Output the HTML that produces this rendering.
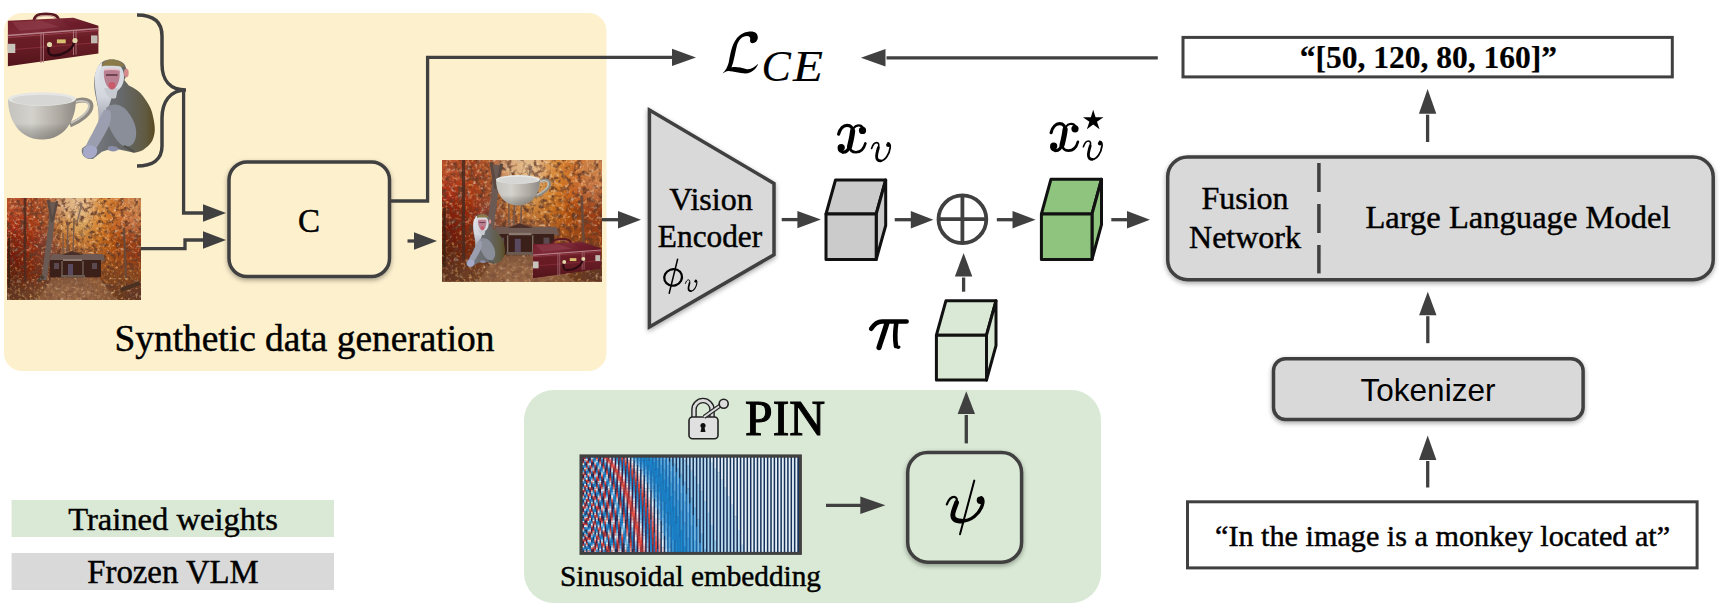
<!DOCTYPE html>
<html><head><meta charset="utf-8"><title>PIN diagram</title>
<style>html,body{margin:0;padding:0;background:#fff;width:1724px;height:613px;overflow:hidden}svg{display:block}text{fill:#000;stroke:#000;stroke-width:0.45px}</style>
</head><body>
<svg width="1724" height="613" viewBox="0 0 1724 613"><defs>
<filter id="sh" x="-10%" y="-10%" width="120%" height="130%"><feGaussianBlur in="SourceAlpha" stdDeviation="2.5"/><feOffset dx="0" dy="2" result="b"/><feComponentTransfer><feFuncA type="linear" slope="0.35"/></feComponentTransfer><feMerge><feMergeNode/><feMergeNode in="SourceGraphic"/></feMerge></filter>

<symbol id="forest" viewBox="0 0 134 102" width="134" height="102" overflow="hidden">
<filter id="fblur" x="-20%" y="-20%" width="140%" height="140%"><feGaussianBlur stdDeviation="6"/></filter>
<filter id="fnoise" x="0" y="0" width="100%" height="100%"><feTurbulence type="fractalNoise" baseFrequency="0.22" numOctaves="3" seed="3"/><feColorMatrix type="matrix" values="0 0 0 0 0.12  0 0 0 0 0.04  0 0 0 0 0.02  0 0 0 -3.5 1.9"/></filter>
<filter id="fnoise2" x="0" y="0" width="100%" height="100%"><feTurbulence type="fractalNoise" baseFrequency="0.28" numOctaves="2" seed="11"/><feColorMatrix type="matrix" values="0 0 0 0 0.98  0 0 0 0 0.86  0 0 0 0 0.66  0 0 0 4 -2.3"/></filter>
<filter id="fnoise3" x="0" y="0" width="100%" height="100%"><feTurbulence type="fractalNoise" baseFrequency="0.35" numOctaves="2" seed="5"/><feColorMatrix type="matrix" values="0 0 0 0 0.95  0 0 0 0 0.55  0 0 0 0 0.2  0 0 0 3.5 -1.9"/></filter>
<filter id="fsoft"><feGaussianBlur stdDeviation="0.5"/></filter>
<rect width="134" height="102" fill="#9a4a28"/>
<g filter="url(#fblur)">
<rect x="-12.0" y="-12.0" width="29.2" height="29.5" fill="#B8502C"/>
<rect x="16.8" y="-12.0" width="17.2" height="29.5" fill="#A0401C"/>
<rect x="33.5" y="-12.0" width="17.2" height="29.5" fill="#B0582E"/>
<rect x="50.2" y="-12.0" width="17.2" height="29.5" fill="#DCAE80"/>
<rect x="67.0" y="-12.0" width="17.2" height="29.5" fill="#E4BE90"/>
<rect x="83.8" y="-12.0" width="17.2" height="29.5" fill="#D88C3A"/>
<rect x="100.5" y="-12.0" width="17.2" height="29.5" fill="#CC6E28"/>
<rect x="117.2" y="-12.0" width="29.2" height="29.5" fill="#CC824A"/>
<rect x="-12.0" y="17.0" width="29.2" height="17.5" fill="#A82E12"/>
<rect x="16.8" y="17.0" width="17.2" height="17.5" fill="#B03E14"/>
<rect x="33.5" y="17.0" width="17.2" height="17.5" fill="#9C502C"/>
<rect x="50.2" y="17.0" width="17.2" height="17.5" fill="#D4924A"/>
<rect x="67.0" y="17.0" width="17.2" height="17.5" fill="#DCAC62"/>
<rect x="83.8" y="17.0" width="17.2" height="17.5" fill="#D48028"/>
<rect x="100.5" y="17.0" width="17.2" height="17.5" fill="#C86420"/>
<rect x="117.2" y="17.0" width="29.2" height="17.5" fill="#C27040"/>
<rect x="-12.0" y="34.0" width="29.2" height="17.5" fill="#84200C"/>
<rect x="16.8" y="34.0" width="17.2" height="17.5" fill="#9A2C0E"/>
<rect x="33.5" y="34.0" width="17.2" height="17.5" fill="#844434"/>
<rect x="50.2" y="34.0" width="17.2" height="17.5" fill="#C06C28"/>
<rect x="67.0" y="34.0" width="17.2" height="17.5" fill="#C87C30"/>
<rect x="83.8" y="34.0" width="17.2" height="17.5" fill="#C46C1E"/>
<rect x="100.5" y="34.0" width="17.2" height="17.5" fill="#B04C10"/>
<rect x="117.2" y="34.0" width="29.2" height="17.5" fill="#983E12"/>
<rect x="-12.0" y="51.0" width="29.2" height="17.5" fill="#701E0E"/>
<rect x="16.8" y="51.0" width="17.2" height="17.5" fill="#8C2A0C"/>
<rect x="33.5" y="51.0" width="17.2" height="17.5" fill="#704030"/>
<rect x="50.2" y="51.0" width="17.2" height="17.5" fill="#945434"/>
<rect x="67.0" y="51.0" width="17.2" height="17.5" fill="#9A5E3C"/>
<rect x="83.8" y="51.0" width="17.2" height="17.5" fill="#B05E20"/>
<rect x="100.5" y="51.0" width="17.2" height="17.5" fill="#A44E18"/>
<rect x="117.2" y="51.0" width="29.2" height="17.5" fill="#963A12"/>
<rect x="-12.0" y="68.0" width="29.2" height="17.5" fill="#5E2010"/>
<rect x="16.8" y="68.0" width="17.2" height="17.5" fill="#7A260C"/>
<rect x="33.5" y="68.0" width="17.2" height="17.5" fill="#603020"/>
<rect x="50.2" y="68.0" width="17.2" height="17.5" fill="#5A3424"/>
<rect x="67.0" y="68.0" width="17.2" height="17.5" fill="#5A3424"/>
<rect x="83.8" y="68.0" width="17.2" height="17.5" fill="#904C1A"/>
<rect x="100.5" y="68.0" width="17.2" height="17.5" fill="#84441A"/>
<rect x="117.2" y="68.0" width="29.2" height="17.5" fill="#8E4A1A"/>
<rect x="-12.0" y="85.0" width="29.2" height="29.5" fill="#60301A"/>
<rect x="16.8" y="85.0" width="17.2" height="29.5" fill="#704024"/>
<rect x="33.5" y="85.0" width="17.2" height="29.5" fill="#7E4E2E"/>
<rect x="50.2" y="85.0" width="17.2" height="29.5" fill="#8E5E3C"/>
<rect x="67.0" y="85.0" width="17.2" height="29.5" fill="#8E5C3C"/>
<rect x="83.8" y="85.0" width="17.2" height="29.5" fill="#7E4C2C"/>
<rect x="100.5" y="85.0" width="17.2" height="29.5" fill="#703E1E"/>
<rect x="117.2" y="85.0" width="29.2" height="29.5" fill="#603620"/>
</g>
<rect width="134" height="102" filter="url(#fnoise3)" opacity="0.55"/>
<rect width="134" height="102" filter="url(#fnoise)" opacity="0.85"/>
<rect width="134" height="55" filter="url(#fnoise2)" opacity="0.45"/>
<g stroke-linecap="butt" fill="none" filter="url(#fsoft)">
<path d="M18 0V84" stroke="#4a2a1c" stroke-width="2.6" opacity="0.85"/>
<path d="M2 40V90" stroke="#3a2014" stroke-width="2.2" opacity="0.8"/>
<path d="M46 4L44 30L37 82" stroke="#6a5a52" stroke-width="5.5"/>
<path d="M41 2L45 24M50 3L46 22" stroke="#5a4a42" stroke-width="2.5"/>
<path d="M36 78L32 83" stroke="#4a3a32" stroke-width="4"/>
<path d="M67 20L66 56M61 25L60 56M56 35L56 56" stroke="#7a5a48" stroke-width="1.4"/>
<path d="M75 5L70 24" stroke="#8a7060" stroke-width="1.5"/>
<path d="M117 30L119 80" stroke="#6a4a38" stroke-width="2.2"/>
</g>
<path d="M42 63L45 56H58L65 53L72 56H96L98 63z" fill="#6e5a52"/>
<path d="M55 57L65 53L76 57z" fill="#4a3028"/>
<rect x="43" y="62" width="51" height="17" fill="#3a2018"/>
<rect x="56" y="61" width="19" height="2" fill="#8a7a70"/>
<rect x="47" y="65" width="5" height="6" fill="#5a4a50"/>
<rect x="85" y="65" width="5" height="6" fill="#5a4a50"/>
<rect x="61" y="66" width="5" height="11" fill="#5a4a60"/>
<path d="M55 63V79M76 63V79" stroke="#7a6a60" stroke-width="1.2"/>
<rect x="54" y="77" width="24" height="2.5" fill="#6a5a50"/>
<path d="M30 102L45 80H92L110 102z" fill="#a07050" opacity="0.45"/>
<rect y="80" width="134" height="22" filter="url(#fnoise2)" opacity="0.3"/>
<path d="M114 92L133 85" stroke="#4a3020" stroke-width="4"/>
</symbol>
<g id="suitcase">
<linearGradient id="sctop" x1="0" y1="0" x2="1" y2="0.3"><stop offset="0" stop-color="#74202c"/><stop offset="0.5" stop-color="#7e2a38"/><stop offset="1" stop-color="#621824"/></linearGradient>
<linearGradient id="scfront" x1="0" y1="0" x2="0" y2="1"><stop offset="0" stop-color="#72242c"/><stop offset="0.5" stop-color="#661c24"/><stop offset="1" stop-color="#52141a"/></linearGradient>
<path d="M33.5 23C34 15 38 13.8 46 13.8C54 13.8 58.5 15 59 21.5" fill="none" stroke="#5a1a22" stroke-width="2.8"/>
<path d="M36 20C37 16.5 41 15.8 46 15.8C51 15.8 55 16.5 56.5 20" fill="none" stroke="#a06070" stroke-width="0.8" opacity="0.7"/>
<path d="M7.9 20.8L73.5 17.8L98.4 25.7V28.6L7.9 35.4z" fill="url(#sctop)"/>
<path d="M12 22L40 20.5L60 27L20 31z" fill="#9a4a58" opacity="0.4"/>
<path d="M62 19.5L90 25.5L70 28z" fill="#6e1a2a" opacity="0.6"/>
<path d="M7.9 35.4L98.4 28.6V53.5L7.9 66.3z" fill="url(#scfront)"/>
<path d="M7.9 35.4L98.4 28.6" stroke="#b88088" stroke-width="1.5"/>
<path d="M7.9 37.5L98.4 30.5" stroke="#9a4050" stroke-width="1"/>
<path d="M7.9 40L98.4 35V42L7.9 49.5z" fill="#6a1a24" opacity="0.55"/>
<path d="M7.9 50L98.4 42.5" stroke="#9a3a46" stroke-width="0.8" opacity="0.8"/>
<path d="M41 33V63M43.5 33V62.5M73.5 30.5V55M76 30.5V54.5" stroke="#b07880" stroke-width="0.9"/>
<path d="M7.9 43.8H15.3V53H7.9z" fill="#c8c4bc"/>
<path d="M91 35.4H97.5V43.3H91z" fill="#c0bab0"/>
<rect x="56.9" y="39.4" width="8.8" height="3.9" fill="#d8c070"/>
<circle cx="49.5" cy="44.5" r="2.6" fill="#e0d8a8"/><circle cx="75" cy="40.5" r="2.6" fill="#e0d8a8"/>
<path d="M48.5 47C47.5 52 49 56 55 55.5C63 55 72 50 74 43" fill="none" stroke="#2a0a12" stroke-width="2.4"/>
</g>
<g id="cup">
<linearGradient id="cupg" x1="0" y1="0" x2="1" y2="0"><stop offset="0" stop-color="#c4c2bc"/><stop offset="0.35" stop-color="#d4d2cc"/><stop offset="0.75" stop-color="#aeaaa2"/><stop offset="1" stop-color="#8e8a84"/></linearGradient>
<linearGradient id="cupv" x1="0" y1="0" x2="0" y2="1"><stop offset="0.6" stop-color="#000" stop-opacity="0"/><stop offset="1" stop-color="#3a3630" stop-opacity="0.35"/></linearGradient>
<path d="M75 101.5C83 98.5 91 100 91 106C91 113 80 121 70 125" fill="none" stroke="#8e8a82" stroke-width="5"/>
<path d="M75.5 102C82 100 89 101 89 106C89 112 80 119 71 123" fill="none" stroke="#c4c2ba" stroke-width="2"/>
<path d="M8 99C8 121 20 139.5 42 139.5C64 139.5 76 121 76 99z" fill="url(#cupg)"/>
<path d="M8 99C8 121 20 139.5 42 139.5C64 139.5 76 121 76 99z" fill="url(#cupv)"/>
<ellipse cx="42" cy="99" rx="34" ry="6.8" fill="#e6e6e4"/>
<ellipse cx="42" cy="100" rx="30.5" ry="5.2" fill="#d6d6d4"/>
</g>
<g id="monkey">
<linearGradient id="mkback" x1="0" y1="0" x2="1" y2="0"><stop offset="0" stop-color="#7a7e84"/><stop offset="0.55" stop-color="#66686a"/><stop offset="0.88" stop-color="#605a40"/><stop offset="1" stop-color="#5a4a22"/></linearGradient>
<path d="M111.8 59.5C118 59.5 124 62 125.2 65.8L127.9 72.9L124.3 80.1L128.8 85.5C135 88 140 92 143.1 96.2C148 103 151 108 152.1 112.4C154 120 155 126 154.8 130.3C154.5 135 153.5 138 152.1 141.1C149 146 146 148 143.1 150C139 152 136 152.7 134.2 152.7L121.6 150L112.7 148.3L101.9 151.8L92.9 159C89 159.5 85 158 83.1 155.4C81.5 153 81.5 150 82.2 148.3L89.3 142.9C93 137 96 131 98.3 126.7C99 120 99 114 98.3 108.8C97 102 95.5 96 94.7 90.9C94 85 94 80 94.7 76.5C96 70 99 64 101.9 62.2C105 60 108 59.5 111.8 59.5z" fill="url(#mkback)"/>
<linearGradient id="mkfur" x1="0" y1="0" x2="0" y2="1"><stop offset="0" stop-color="#e6e8ee"/><stop offset="0.55" stop-color="#d4d6de"/><stop offset="1" stop-color="#9a9ea8"/></linearGradient>
<path d="M101.9 62.2C97 66 94.5 72 94.7 80C94.8 88 96.5 96 98.3 108.8C99 116 99 120 98.5 124L106 114C109 106 112 98 113 92L112 90C106 86 103 78 102 70z" fill="url(#mkfur)"/>
<path d="M106 108C112 102 122 104 128 112C134 120 137 128 136 136C135 144 130 148 124 146C118 144 112 134 108 124z" fill="#8a8e98"/>
<path d="M104 110C100 118 96 126 92 134C89 139 87 143 86 146L95 150C99 144 104 136 108 128C111 122 112 116 110 110z" fill="#9a9eae"/>
<path d="M124 146C128 148 132 150 134 152" stroke="#50504c" stroke-width="2" fill="none"/>
<path d="M83.5 148.5C87 144 94 144 97 149C98 153 95 157 91 158.5C87 159 84 157 83 154z" fill="#a6aac8"/>
<path d="M108 147C111 145 117 146 119 149C117 152 111 152 108 150z" fill="#8a8ea8"/>
<ellipse cx="111.5" cy="77" rx="12.5" ry="15.5" fill="#d8dae2"/>
<path d="M104 88C106 96 110 100 116 98L118 88z" fill="#c8cad2"/>
<path d="M101.5 66C103 61 108 59.5 112 59.5C117 59.5 123 62 124.5 67C118 65.5 107 65.5 101.5 66z" fill="#8a7a48"/>
<ellipse cx="126.3" cy="73" rx="2.4" ry="4.2" fill="#d48a8a"/>
<path d="M104 70C107 68.5 116 68.5 119.5 70C120.5 77 118.5 88 112 90C105.5 88 103 77 104 70z" fill="#b88090"/>
<path d="M104 70C107 68.8 116 68.8 119.5 70" stroke="#e8c0c8" stroke-width="1.6" fill="none"/>
<path d="M106 75H117.5" stroke="#4a2030" stroke-width="1.6" opacity="0.8"/>
<ellipse cx="112" cy="85.5" rx="3.4" ry="3.4" fill="#c85a6a"/>
</g>
</defs>
<rect x="4" y="13" width="602.5" height="358" rx="18" fill="#FDF0CD"/>
<rect x="524" y="390" width="577" height="213" rx="30" fill="#D9E9D5"/>
<rect x="11.6" y="500" width="322.4" height="37" fill="#D9E9D5"/>
<rect x="11.6" y="553" width="322.4" height="37" fill="#D9D9D9"/>
<use href="#suitcase"/>
<use href="#cup"/>
<use href="#monkey"/>
<use href="#forest" transform="translate(7,198)"/>
<use href="#forest" transform="translate(442,160) scale(1.194)"/>
<use href="#cup" transform="translate(490.8,116.1) scale(0.647,0.64)"/>
<use href="#monkey" transform="translate(423,182.8) scale(0.53)"/>
<use href="#suitcase" transform="translate(527.1,228.6) scale(0.75)"/>
<path d="M137 15C152 15 162 21 162 36V64C162 80 170 90 186 90C170 90 162 102 162 118V146C162 160 152 166 137 166" fill="none" stroke="#404040" stroke-width="3.5"/>
<path d="M183.6 90V213H205" fill="none" stroke="#404040" stroke-width="3.3"/>
<path d="M203.0 204.3L226.0 213.0L203.0 221.7z" fill="#404040"/>
<path d="M141 248.6H185V240H205" fill="none" stroke="#404040" stroke-width="3.3"/>
<path d="M203.0 231.3L226.0 240.0L203.0 248.7z" fill="#404040"/>
<rect x="229" y="162" width="160.5" height="114.5" rx="18" fill="#FDF0CD" stroke="#404040" stroke-width="3.5" filter="url(#sh)"/>
<text x="309" y="232" font-family="Liberation Serif" font-size="33" text-anchor="middle">C</text>
<path d="M391 201H427.6V57.4H674" fill="none" stroke="#404040" stroke-width="3.3"/>
<path d="M672.0 48.7L696.0 57.4L672.0 66.1z" fill="#404040"/>
<path d="M407.5 241.0H415.0" stroke="#404040" stroke-width="3.3" fill="none"/><path d="M414.0 232.3L437.0 241.0L414.0 249.7z" fill="#404040"/>
<path d="M602.0 219.7H619.0" stroke="#404040" stroke-width="3.3" fill="none"/><path d="M618.0 211.0L641.0 219.7L618.0 228.4z" fill="#404040"/>
<text x="114.5" y="351" font-family="Liberation Serif" font-size="37.4">Synthetic data generation</text>
<path fill="#000" d="M722.5 73.5C725.5 70.5 727.8 67 729 61C730.5 53 732 44 737 38C741 33.5 746 31.5 751 31.5C755 31.5 757.8 33.5 757.8 37.5C757.8 41 755 43.2 752.5 43.2C750.5 43.2 749.6 41.5 750.2 39C750.5 37.5 749.5 36 747 36C742 36 738.5 40 736.8 46C735 53 734 61 731.5 67.5C735 66.5 741 67.5 746 69C751 70 754.5 67 758.2 63.8C756.5 68.5 752 73.5 745.5 73.5C739 73.5 734 71 728.5 71C726 71 724 72.5 722.5 73.5z"/>
<text x="761.5" y="81.3" font-family="Liberation Serif" font-style="italic" font-size="44" style="stroke-width:0.15px">C</text>
<text x="793" y="81.3" font-family="Liberation Serif" font-style="italic" font-size="44" textLength="30" lengthAdjust="spacingAndGlyphs" style="stroke-width:0.15px">E</text>
<path d="M1157.8 57.8H886.5" stroke="#404040" stroke-width="3.3" fill="none"/><path d="M885.5 49.1L860.9 57.8L885.5 66.5z" fill="#404040"/>
<rect x="1183" y="37.4" width="489.3" height="39.5" fill="#fff" stroke="#404040" stroke-width="3"/>
<text x="1428.3" y="67.9" font-family="Liberation Serif" font-weight="bold" font-size="31.5" style="stroke-width:0.2px" text-anchor="middle">“[50, 120, 80, 160]”</text>
<path d="M1427.6 142.0V114.7" stroke="#404040" stroke-width="3.3" fill="none"/><path d="M1418.9 113.7L1427.6 89.1L1436.3 113.7z" fill="#404040"/>
<path d="M649.4 110L774 183.4V254.7L649.4 327z" fill="#D9D9D9" stroke="#404040" stroke-width="3.5" stroke-linejoin="miter" filter="url(#sh)"/>
<text x="711" y="210" font-family="Liberation Serif" font-size="32" text-anchor="middle">Vision</text>
<text x="710" y="247.4" font-family="Liberation Serif" font-size="31.3" text-anchor="middle">Encoder</text>
<g fill="none" stroke="#000"><path d="M677.6 259.3L669.2 293.2" stroke-width="1.5" stroke-linecap="round"/><ellipse cx="673.1" cy="277.4" rx="9" ry="8.2" transform="rotate(-20 673.1 277.4)" stroke-width="2.2"/></g>
<g transform="translate(685,279.5) scale(0.62) translate(-871,-142)"><g transform="translate(0.0,0.0)" fill="none" stroke="#000" stroke-linecap="round"><path d="M871.6 148.4C872.8 144.8 874.6 142.6 876.6 142.6C878.8 142.6 879.2 144.8 878.4 147.6" stroke-width="1.6"/><path d="M878.4 147.6C877.6 150.5 876.6 153.8 876.6 156.3C876.6 159.4 878.2 160.9 880.6 160.9" stroke-width="2.8"/><path d="M880.6 160.9C885 160.9 889.4 154.5 890.2 147.5C890.4 145 889.6 143 888 143" stroke-width="1.8"/><circle cx="888.2" cy="145" r="2.1" fill="#000" stroke="none"/></g></g>
<path d="M781.7 219.6H798.4" stroke="#404040" stroke-width="3.3" fill="none"/><path d="M797.4 210.9L820.9 219.6L797.4 228.3z" fill="#404040"/>
<g stroke="#111" stroke-width="3.0" stroke-linejoin="round" fill="#CBCBCB"><path d="M826.0 214.0L835.5 180.0L885.7 180.0L876.2 214.0z"/><path d="M876.2 214.0L885.7 180.0L885.7 225.5L876.2 259.5z"/><rect x="826.0" y="214.0" width="50.2" height="45.5"/></g>
<g transform="translate(0.0,0.0)" fill="none" stroke="#000" stroke-linecap="round"><path d="M838.6 134.2C840 128.5 843.5 125.3 847 125.3C850.8 125.3 853 127.8 852.6 132C852.2 136 850.3 143 849.5 146C848.5 150 846 152.2 843 152.2" stroke-width="3.2"/><path d="M852.6 131C852.2 136 850.6 142.5 849.6 146.5" stroke-width="5.2"/><circle cx="841.2" cy="147.6" r="3.6" fill="#000" stroke="none"/><path d="M843 152.2C841 152.2 839 151 839 149" stroke-width="2.5"/><path d="M862.8 127.5C861.5 125.8 859.5 125.2 857.5 125.6C855 126.2 853 128.5 852.5 131" stroke-width="2.2"/><circle cx="862.5" cy="130.4" r="3.6" fill="#000" stroke="none"/><path d="M849.6 146.5C850 150 852.5 152.2 856 152.2C860.5 152.2 864 148.5 865.4 143.4" stroke-width="2.6"/></g>
<g transform="translate(0.0,0.0)" fill="none" stroke="#000" stroke-linecap="round"><path d="M871.6 148.4C872.8 144.8 874.6 142.6 876.6 142.6C878.8 142.6 879.2 144.8 878.4 147.6" stroke-width="1.6"/><path d="M878.4 147.6C877.6 150.5 876.6 153.8 876.6 156.3C876.6 159.4 878.2 160.9 880.6 160.9" stroke-width="2.8"/><path d="M880.6 160.9C885 160.9 889.4 154.5 890.2 147.5C890.4 145 889.6 143 888 143" stroke-width="1.8"/><circle cx="888.2" cy="145" r="2.1" fill="#000" stroke="none"/></g>
<path d="M894.7 219.7H911.8" stroke="#404040" stroke-width="3.3" fill="none"/><path d="M910.8 211.0L933.4 219.7L910.8 228.4z" fill="#404040"/>
<g stroke="#404040" stroke-width="3.8" fill="none"><circle cx="962.4" cy="219.2" r="23.9"/><path d="M938.5 219.2H986.3M962.4 195.3V243.1"/></g>
<path d="M996.8 219.7H1013.5" stroke="#404040" stroke-width="3.3" fill="none"/><path d="M1012.5 211.0L1035.6 219.7L1012.5 228.4z" fill="#404040"/>
<g stroke="#111" stroke-width="3.0" stroke-linejoin="round" fill="#8FC47E"><path d="M1041.4 214.0L1050.9 179.3L1101.5 179.3L1092.0 214.0z"/><path d="M1092.0 214.0L1101.5 179.3L1101.5 224.7L1092.0 259.4z"/><rect x="1041.4" y="214.0" width="50.6" height="45.4"/></g>
<g transform="translate(212.5,-1.6)" fill="none" stroke="#000" stroke-linecap="round"><path d="M838.6 134.2C840 128.5 843.5 125.3 847 125.3C850.8 125.3 853 127.8 852.6 132C852.2 136 850.3 143 849.5 146C848.5 150 846 152.2 843 152.2" stroke-width="3.2"/><path d="M852.6 131C852.2 136 850.6 142.5 849.6 146.5" stroke-width="5.2"/><circle cx="841.2" cy="147.6" r="3.6" fill="#000" stroke="none"/><path d="M843 152.2C841 152.2 839 151 839 149" stroke-width="2.5"/><path d="M862.8 127.5C861.5 125.8 859.5 125.2 857.5 125.6C855 126.2 853 128.5 852.5 131" stroke-width="2.2"/><circle cx="862.5" cy="130.4" r="3.6" fill="#000" stroke="none"/><path d="M849.6 146.5C850 150 852.5 152.2 856 152.2C860.5 152.2 864 148.5 865.4 143.4" stroke-width="2.6"/></g>
<g transform="translate(211.8,-1.6)" fill="none" stroke="#000" stroke-linecap="round"><path d="M871.6 148.4C872.8 144.8 874.6 142.6 876.6 142.6C878.8 142.6 879.2 144.8 878.4 147.6" stroke-width="1.6"/><path d="M878.4 147.6C877.6 150.5 876.6 153.8 876.6 156.3C876.6 159.4 878.2 160.9 880.6 160.9" stroke-width="2.8"/><path d="M880.6 160.9C885 160.9 889.4 154.5 890.2 147.5C890.4 145 889.6 143 888 143" stroke-width="1.8"/><circle cx="888.2" cy="145" r="2.1" fill="#000" stroke="none"/></g>
<path fill="#000" d="M1093.20 109.70L1095.55 117.26L1103.47 117.16L1097.00 121.74L1099.55 129.24L1093.20 124.50L1086.85 129.24L1089.40 121.74L1082.93 117.16L1090.85 117.26z"/>
<path d="M1111.3 219.7H1128.0" stroke="#404040" stroke-width="3.3" fill="none"/><path d="M1127.0 211.0L1150.0 219.7L1127.0 228.4z" fill="#404040"/>
<path d="M963.6 291.7V277.5" stroke="#404040" stroke-width="3.3" fill="none"/><path d="M954.9 276.5L963.6 253.0L972.3 276.5z" fill="#404040"/>
<g stroke="#111" stroke-width="3.0" stroke-linejoin="round" fill="#D9E9D5"><path d="M936.4 335.2L945.9 300.8L996.0 300.8L986.5 335.2z"/><path d="M986.5 335.2L996.0 300.8L996.0 345.7L986.5 380.1z"/><rect x="936.4" y="335.2" width="50.1" height="44.9"/></g>
<g fill="none" stroke="#000" stroke-linecap="round"><path d="M871.2 328.8C874 324.5 877 321.5 882 321.5H906.6" stroke-width="4.6"/><path d="M886.8 323.5C884 333 881 341 879 347.5" stroke-width="5.2"/><path d="M896.2 323.5C895 332 895 340 896 346" stroke-width="4.6"/><path d="M895.5 344C896.5 347 898 348 899 347" stroke-width="3"/></g>
<rect x="1167.7" y="157" width="545.5" height="122.7" rx="20" fill="#D9D9D9" stroke="#404040" stroke-width="3.5" filter="url(#sh)"/>
<path d="M1318.9 163V273.4" stroke="#404040" stroke-width="3.5" stroke-dasharray="29 12" fill="none"/>
<text x="1245" y="209" font-family="Liberation Serif" font-size="32" text-anchor="middle">Fusion</text>
<text x="1245" y="247.7" font-family="Liberation Serif" font-size="32" text-anchor="middle">Network</text>
<text x="1518" y="228.1" font-family="Liberation Serif" font-size="32.6" text-anchor="middle">Large Language Model</text>
<path d="M1427.8 343.2V316.2" stroke="#404040" stroke-width="3.3" fill="none"/><path d="M1419.1 315.2L1427.8 291.7L1436.5 315.2z" fill="#404040"/>
<rect x="1273.5" y="358.8" width="309.6" height="60.8" rx="12" fill="#D9D9D9" stroke="#404040" stroke-width="3.5" filter="url(#sh)"/>
<text x="1428" y="401.3" font-family="Liberation Sans" font-size="31.5" text-anchor="middle" style="stroke-width:0">Tokenizer</text>
<path d="M1427.7 487.5V461.0" stroke="#404040" stroke-width="3.3" fill="none"/><path d="M1419.0 460.0L1427.7 435.4L1436.4 460.0z" fill="#404040"/>
<rect x="1187.5" y="501.8" width="509.6" height="66.1" fill="#fff" stroke="#404040" stroke-width="3"/>
<text x="1442.6" y="546" font-family="Liberation Serif" font-size="30.2" text-anchor="middle">“In the image is a monkey located at”</text>
<text x="745" y="435.2" font-family="Liberation Serif" font-size="49.7" style="stroke-width:1.1px">PIN</text>
<g stroke="#222" stroke-width="1.6">
<path d="M694 418V409.5A9 9 0 0 1 712 409.5V418" fill="none" stroke="#222" stroke-width="5.6"/>
<path d="M694 418V409.5A9 9 0 0 1 712 409.5V418" fill="none" stroke="#dcdcdc" stroke-width="2.8"/>
<rect x="689" y="417" width="29" height="21.7" rx="3.5" fill="#E0E0E0"/>
<path d="M704 417L721 405" stroke="#222" stroke-width="4"/><path d="M704 417L721 405" stroke="#ddd" stroke-width="2"/>
<circle cx="723.7" cy="403.8" r="4.5" fill="#ddd"/>
</g>
<path d="M703 423a2.6 2.6 0 0 1 1.6 4.7l0.9 4.3h-5l0.9-4.3a2.6 2.6 0 0 1 1.6-4.7z" fill="#111"/>
<rect x="581" y="455.9" width="219.4" height="97.5" fill="#404040"/>
<path fill="#3c1840" d="M582.42 458.9h1.85v1.6h-1.85zM582.42 475.1h1.85v3.1h-1.85zM582.42 492.8h1.85v1.6h-1.85zM582.42 509.1h1.85v1.6h-1.85zM582.42 525.3h1.85v1.6h-1.85zM582.42 541.6h1.85v1.6h-1.85zM584.11 472.2h1.85v1.6h-1.85zM584.11 488.4h1.85v1.6h-1.85zM584.11 504.6h1.85v1.6h-1.85zM584.11 520.9h1.85v1.6h-1.85zM584.11 537.1h1.85v1.6h-1.85zM585.80 463.3h1.85v1.6h-1.85zM585.80 482.5h1.85v1.6h-1.85zM585.80 501.7h1.85v1.6h-1.85zM585.80 520.9h1.85v1.6h-1.85zM585.80 540.1h1.85v1.6h-1.85zM587.49 458.9h1.85v1.6h-1.85zM587.49 478.1h1.85v1.6h-1.85zM587.49 497.3h1.85v1.6h-1.85zM587.49 516.5h1.85v1.6h-1.85zM587.49 535.7h1.85v1.6h-1.85zM589.18 469.2h1.85v1.6h-1.85zM589.18 489.9h1.85v3.1h-1.85zM589.18 512.0h1.85v3.1h-1.85zM589.18 534.2h1.85v3.1h-1.85zM590.87 463.3h1.85v1.6h-1.85zM590.87 485.5h1.85v1.6h-1.85zM590.87 507.6h1.85v1.6h-1.85zM590.87 528.3h1.85v3.1h-1.85zM590.87 550.4h1.85v1.6h-1.85zM592.56 473.6h1.85v3.1h-1.85zM592.56 500.2h1.85v1.6h-1.85zM592.56 525.3h1.85v3.1h-1.85zM592.56 550.4h1.85v1.6h-1.85zM594.25 467.7h1.85v3.1h-1.85zM594.25 492.8h1.85v3.1h-1.85zM594.25 519.4h1.85v1.6h-1.85zM594.25 544.5h1.85v1.6h-1.85zM595.94 481.0h1.85v3.1h-1.85zM595.94 510.6h1.85v3.1h-1.85zM595.94 540.1h1.85v3.1h-1.85zM597.64 473.6h1.85v3.1h-1.85zM597.64 503.2h1.85v3.1h-1.85zM597.64 532.7h1.85v3.1h-1.85zM599.33 457.4h1.85v1.6h-1.85zM599.33 488.4h1.85v4.6h-1.85zM599.33 522.4h1.85v3.1h-1.85zM601.02 479.5h1.85v4.6h-1.85zM601.02 513.5h1.85v4.6h-1.85zM601.02 547.5h1.85v4.6h-1.85zM602.71 458.9h1.85v3.1h-1.85zM602.71 497.3h1.85v4.6h-1.85zM602.71 537.1h1.85v3.1h-1.85zM604.40 488.4h1.85v3.1h-1.85zM604.40 526.8h1.85v4.6h-1.85zM606.09 463.3h1.85v4.6h-1.85zM606.09 507.6h1.85v4.6h-1.85zM607.78 497.3h1.85v4.6h-1.85zM607.78 541.6h1.85v4.6h-1.85zM609.47 467.7h1.85v4.6h-1.85zM609.47 519.4h1.85v6.1h-1.85zM611.16 457.4h1.85v3.1h-1.85zM611.16 506.1h1.85v6.1h-1.85zM612.85 473.6h1.85v6.1h-1.85zM612.85 534.2h1.85v6.1h-1.85zM614.54 458.9h1.85v6.1h-1.85zM614.54 517.9h1.85v6.1h-1.85zM616.23 479.5h1.85v7.5h-1.85zM616.23 548.9h1.85v3.1h-1.85zM617.92 461.8h1.85v7.5h-1.85zM617.92 531.2h1.85v7.5h-1.85zM619.61 486.9h1.85v9.0h-1.85zM621.30 467.7h1.85v7.5h-1.85zM621.30 547.5h1.85v4.6h-1.85zM623.00 495.8h1.85v10.5h-1.85zM624.69 472.2h1.85v10.5h-1.85zM626.38 506.1h1.85v10.5h-1.85zM628.07 479.5h1.85v10.5h-1.85zM629.76 517.9h1.85v12.0h-1.85zM631.45 486.9h1.85v12.0h-1.85zM633.14 531.2h1.85v14.9h-1.85zM634.83 495.8h1.85v13.4h-1.85zM636.52 546.0h1.85v6.1h-1.85zM638.21 504.6h1.85v17.9h-1.85zM641.59 516.5h1.85v19.3h-1.85zM644.97 529.8h1.85v22.3h-1.85zM648.35 546.0h1.85v6.1h-1.85z"/>
<path fill="#16325c" d="M582.42 467.7h1.85v1.6h-1.85zM582.42 484.0h1.85v1.6h-1.85zM582.42 500.2h1.85v1.6h-1.85zM582.42 516.5h1.85v1.6h-1.85zM582.42 532.7h1.85v3.1h-1.85zM582.42 550.4h1.85v1.6h-1.85zM584.11 463.3h1.85v1.6h-1.85zM584.11 479.5h1.85v1.6h-1.85zM584.11 495.8h1.85v1.6h-1.85zM584.11 513.5h1.85v1.6h-1.85zM584.11 529.8h1.85v1.6h-1.85zM584.11 546.0h1.85v1.6h-1.85zM585.80 473.6h1.85v1.6h-1.85zM585.80 491.4h1.85v3.1h-1.85zM585.80 510.6h1.85v3.1h-1.85zM585.80 529.8h1.85v3.1h-1.85zM585.80 548.9h1.85v1.6h-1.85zM587.49 467.7h1.85v3.1h-1.85zM587.49 486.9h1.85v3.1h-1.85zM587.49 506.1h1.85v1.6h-1.85zM587.49 525.3h1.85v1.6h-1.85zM587.49 544.5h1.85v1.6h-1.85zM589.18 457.4h1.85v3.1h-1.85zM589.18 479.5h1.85v1.6h-1.85zM589.18 501.7h1.85v1.6h-1.85zM589.18 523.8h1.85v1.6h-1.85zM589.18 546.0h1.85v1.6h-1.85zM590.87 473.6h1.85v3.1h-1.85zM590.87 495.8h1.85v3.1h-1.85zM590.87 517.9h1.85v3.1h-1.85zM590.87 540.1h1.85v1.6h-1.85zM592.56 461.8h1.85v3.1h-1.85zM592.56 486.9h1.85v3.1h-1.85zM592.56 512.0h1.85v3.1h-1.85zM592.56 537.1h1.85v3.1h-1.85zM594.25 481.0h1.85v1.6h-1.85zM594.25 506.1h1.85v3.1h-1.85zM594.25 531.2h1.85v3.1h-1.85zM595.94 466.3h1.85v3.1h-1.85zM595.94 495.8h1.85v3.1h-1.85zM595.94 525.3h1.85v3.1h-1.85zM597.64 458.9h1.85v3.1h-1.85zM597.64 488.4h1.85v3.1h-1.85zM597.64 517.9h1.85v3.1h-1.85zM597.64 547.5h1.85v3.1h-1.85zM599.33 472.2h1.85v3.1h-1.85zM599.33 506.1h1.85v3.1h-1.85zM599.33 540.1h1.85v3.1h-1.85zM601.02 463.3h1.85v3.1h-1.85zM601.02 497.3h1.85v3.1h-1.85zM601.02 531.2h1.85v3.1h-1.85zM602.71 478.1h1.85v4.6h-1.85zM602.71 516.5h1.85v4.6h-1.85zM604.40 467.7h1.85v4.6h-1.85zM604.40 507.6h1.85v4.6h-1.85zM604.40 546.0h1.85v4.6h-1.85zM606.09 485.5h1.85v4.6h-1.85zM606.09 531.2h1.85v4.6h-1.85zM607.78 473.6h1.85v4.6h-1.85zM607.78 519.4h1.85v4.6h-1.85zM609.47 494.3h1.85v4.6h-1.85zM609.47 546.0h1.85v4.6h-1.85zM611.16 481.0h1.85v4.6h-1.85zM611.16 532.7h1.85v6.1h-1.85zM612.85 503.2h1.85v6.1h-1.85zM614.54 488.4h1.85v6.1h-1.85zM614.54 548.9h1.85v3.1h-1.85zM616.23 515.0h1.85v6.1h-1.85zM617.92 497.3h1.85v7.5h-1.85zM619.61 526.8h1.85v9.0h-1.85zM621.30 507.6h1.85v7.5h-1.85zM623.00 457.4h1.85v1.6h-1.85zM623.00 543.0h1.85v9.0h-1.85zM624.69 519.4h1.85v9.0h-1.85zM626.38 457.4h1.85v6.1h-1.85zM628.07 532.7h1.85v10.5h-1.85zM629.76 457.4h1.85v10.5h-1.85zM631.45 548.9h1.85v3.1h-1.85zM633.14 460.4h1.85v13.4h-1.85zM636.52 464.8h1.85v16.4h-1.85zM639.90 469.2h1.85v19.3h-1.85zM643.28 475.1h1.85v22.3h-1.85zM646.66 482.5h1.85v25.3h-1.85zM650.04 489.9h1.85v29.7h-1.85zM653.43 498.7h1.85v34.1h-1.85zM656.81 509.1h1.85v40.0h-1.85zM660.19 520.9h1.85v31.2h-1.85zM663.57 535.7h1.85v16.4h-1.85zM668.64 457.4h1.85v4.6h-1.85zM672.02 457.4h1.85v9.0h-1.85zM675.40 457.4h1.85v14.9h-1.85zM678.79 457.4h1.85v20.8h-1.85zM682.17 457.4h1.85v28.2h-1.85zM685.55 457.4h1.85v37.1h-1.85zM688.93 457.4h1.85v45.9h-1.85zM692.31 457.4h1.85v57.7h-1.85zM695.69 457.4h1.85v69.5h-1.85zM699.07 457.4h1.85v85.8h-1.85zM702.45 457.4h1.85v94.7h-1.85zM705.84 457.4h1.85v94.7h-1.85zM709.22 457.4h1.85v94.7h-1.85zM712.60 457.4h1.85v94.7h-1.85zM715.98 457.4h1.85v94.7h-1.85zM719.36 457.4h1.85v94.7h-1.85zM722.74 457.4h1.85v94.7h-1.85zM726.12 457.4h1.85v94.7h-1.85zM729.50 457.4h1.85v94.7h-1.85zM732.89 457.4h1.85v94.7h-1.85zM736.27 457.4h1.85v94.7h-1.85zM739.65 457.4h1.85v94.7h-1.85zM743.03 457.4h1.85v94.7h-1.85zM746.41 457.4h1.85v94.7h-1.85zM749.79 457.4h1.85v94.7h-1.85zM753.17 457.4h1.85v94.7h-1.85zM756.55 457.4h1.85v94.7h-1.85zM759.94 457.4h1.85v94.7h-1.85zM763.32 457.4h1.85v94.7h-1.85zM766.70 457.4h1.85v94.7h-1.85zM770.08 457.4h1.85v94.7h-1.85zM773.46 457.4h1.85v94.7h-1.85zM776.84 457.4h1.85v94.7h-1.85zM780.22 457.4h1.85v94.7h-1.85zM783.60 457.4h1.85v94.7h-1.85zM786.99 457.4h1.85v94.7h-1.85zM790.37 457.4h1.85v94.7h-1.85zM793.75 457.4h1.85v94.7h-1.85zM797.13 457.4h1.85v94.7h-1.85z"/>
<path fill="#5f213e" d="M582.42 460.4h1.85v1.6h-1.85zM582.42 491.4h1.85v1.6h-1.85zM582.42 507.6h1.85v1.6h-1.85zM582.42 523.8h1.85v1.6h-1.85zM582.42 543.0h1.85v1.6h-1.85zM584.11 470.7h1.85v1.6h-1.85zM584.11 486.9h1.85v1.6h-1.85zM584.11 522.4h1.85v1.6h-1.85zM584.11 538.6h1.85v1.6h-1.85zM585.80 464.8h1.85v1.6h-1.85zM585.80 484.0h1.85v1.6h-1.85zM585.80 500.2h1.85v1.6h-1.85zM585.80 503.2h1.85v1.6h-1.85zM585.80 519.4h1.85v1.6h-1.85zM585.80 522.4h1.85v1.6h-1.85zM585.80 538.6h1.85v1.6h-1.85zM585.80 541.6h1.85v1.6h-1.85zM587.49 457.4h1.85v1.6h-1.85zM587.49 460.4h1.85v1.6h-1.85zM587.49 476.6h1.85v1.6h-1.85zM587.49 479.5h1.85v1.6h-1.85zM587.49 495.8h1.85v1.6h-1.85zM587.49 498.7h1.85v1.6h-1.85zM587.49 515.0h1.85v1.6h-1.85zM587.49 534.2h1.85v1.6h-1.85zM589.18 467.7h1.85v1.6h-1.85zM589.18 470.7h1.85v1.6h-1.85zM589.18 492.8h1.85v1.6h-1.85zM590.87 461.8h1.85v1.6h-1.85zM590.87 464.8h1.85v1.6h-1.85zM590.87 484.0h1.85v1.6h-1.85zM590.87 486.9h1.85v1.6h-1.85zM590.87 506.1h1.85v1.6h-1.85zM590.87 509.1h1.85v1.6h-1.85zM590.87 531.2h1.85v1.6h-1.85zM592.56 476.6h1.85v1.6h-1.85zM592.56 498.7h1.85v1.6h-1.85zM592.56 501.7h1.85v1.6h-1.85zM592.56 523.8h1.85v1.6h-1.85zM592.56 548.9h1.85v1.6h-1.85zM594.25 470.7h1.85v1.6h-1.85zM594.25 495.8h1.85v1.6h-1.85zM594.25 517.9h1.85v1.6h-1.85zM594.25 520.9h1.85v1.6h-1.85zM594.25 543.0h1.85v1.6h-1.85zM594.25 546.0h1.85v1.6h-1.85zM595.94 479.5h1.85v1.6h-1.85zM595.94 484.0h1.85v1.6h-1.85zM595.94 509.1h1.85v1.6h-1.85zM595.94 513.5h1.85v1.6h-1.85zM595.94 538.6h1.85v1.6h-1.85zM597.64 472.2h1.85v1.6h-1.85zM597.64 476.6h1.85v1.6h-1.85zM597.64 501.7h1.85v1.6h-1.85zM597.64 506.1h1.85v1.6h-1.85zM597.64 531.2h1.85v1.6h-1.85zM599.33 486.9h1.85v1.6h-1.85zM599.33 520.9h1.85v1.6h-1.85zM599.33 525.3h1.85v1.6h-1.85zM601.02 484.0h1.85v1.6h-1.85zM601.02 517.9h1.85v1.6h-1.85zM601.02 546.0h1.85v1.6h-1.85zM602.71 457.4h1.85v1.6h-1.85zM602.71 461.8h1.85v1.6h-1.85zM602.71 495.8h1.85v1.6h-1.85zM602.71 501.7h1.85v1.6h-1.85zM602.71 535.7h1.85v1.6h-1.85zM602.71 540.1h1.85v1.6h-1.85zM604.40 486.9h1.85v1.6h-1.85zM604.40 491.4h1.85v1.6h-1.85zM604.40 525.3h1.85v1.6h-1.85zM604.40 531.2h1.85v1.6h-1.85zM606.09 460.4h1.85v3.1h-1.85zM606.09 467.7h1.85v1.6h-1.85zM606.09 506.1h1.85v1.6h-1.85zM606.09 512.0h1.85v1.6h-1.85zM607.78 494.3h1.85v3.1h-1.85zM607.78 501.7h1.85v1.6h-1.85zM607.78 540.1h1.85v1.6h-1.85zM607.78 546.0h1.85v1.6h-1.85zM609.47 466.3h1.85v1.6h-1.85zM609.47 472.2h1.85v3.1h-1.85zM609.47 517.9h1.85v1.6h-1.85zM609.47 525.3h1.85v1.6h-1.85zM611.16 460.4h1.85v1.6h-1.85zM611.16 504.6h1.85v1.6h-1.85zM611.16 512.0h1.85v1.6h-1.85zM612.85 470.7h1.85v3.1h-1.85zM612.85 479.5h1.85v1.6h-1.85zM612.85 531.2h1.85v3.1h-1.85zM612.85 540.1h1.85v1.6h-1.85zM614.54 457.4h1.85v1.6h-1.85zM614.54 464.8h1.85v1.6h-1.85zM614.54 516.5h1.85v1.6h-1.85zM614.54 523.8h1.85v3.1h-1.85zM616.23 476.6h1.85v3.1h-1.85zM616.23 486.9h1.85v3.1h-1.85zM616.23 546.0h1.85v3.1h-1.85zM617.92 460.4h1.85v1.6h-1.85zM617.92 469.2h1.85v3.1h-1.85zM617.92 529.8h1.85v1.6h-1.85zM617.92 538.6h1.85v3.1h-1.85zM619.61 484.0h1.85v3.1h-1.85zM619.61 495.8h1.85v3.1h-1.85zM621.30 464.8h1.85v3.1h-1.85zM621.30 475.1h1.85v3.1h-1.85zM621.30 544.5h1.85v3.1h-1.85zM623.00 492.8h1.85v3.1h-1.85zM623.00 506.1h1.85v3.1h-1.85zM624.69 469.2h1.85v3.1h-1.85zM624.69 482.5h1.85v3.1h-1.85zM626.38 501.7h1.85v4.6h-1.85zM626.38 516.5h1.85v4.6h-1.85zM628.07 475.1h1.85v4.6h-1.85zM628.07 489.9h1.85v4.6h-1.85zM629.76 513.5h1.85v4.6h-1.85zM629.76 529.8h1.85v4.6h-1.85zM631.45 482.5h1.85v4.6h-1.85zM631.45 498.7h1.85v6.1h-1.85zM633.14 525.3h1.85v6.1h-1.85zM633.14 546.0h1.85v4.6h-1.85zM634.83 489.9h1.85v6.1h-1.85zM634.83 509.1h1.85v6.1h-1.85zM636.52 540.1h1.85v6.1h-1.85zM638.21 498.7h1.85v6.1h-1.85zM638.21 522.4h1.85v6.1h-1.85zM641.59 509.1h1.85v7.5h-1.85zM641.59 535.7h1.85v7.5h-1.85zM644.97 522.4h1.85v7.5h-1.85zM648.35 535.7h1.85v10.5h-1.85z"/>
<path fill="#1a64aa" d="M582.42 466.3h1.85v1.6h-1.85zM582.42 485.5h1.85v1.6h-1.85zM582.42 501.7h1.85v1.6h-1.85zM582.42 517.9h1.85v1.6h-1.85zM582.42 548.9h1.85v1.6h-1.85zM584.11 464.8h1.85v1.6h-1.85zM584.11 481.0h1.85v1.6h-1.85zM584.11 497.3h1.85v1.6h-1.85zM584.11 512.0h1.85v1.6h-1.85zM584.11 528.3h1.85v1.6h-1.85zM584.11 544.5h1.85v1.6h-1.85zM585.80 472.2h1.85v1.6h-1.85zM585.80 550.4h1.85v1.6h-1.85zM587.49 507.6h1.85v1.6h-1.85zM587.49 526.8h1.85v1.6h-1.85zM587.49 543.0h1.85v1.6h-1.85zM587.49 546.0h1.85v1.6h-1.85zM589.18 478.1h1.85v1.6h-1.85zM589.18 481.0h1.85v1.6h-1.85zM589.18 500.2h1.85v1.6h-1.85zM589.18 503.2h1.85v1.6h-1.85zM589.18 522.4h1.85v1.6h-1.85zM589.18 525.3h1.85v1.6h-1.85zM589.18 544.5h1.85v1.6h-1.85zM589.18 547.5h1.85v1.6h-1.85zM590.87 516.5h1.85v1.6h-1.85zM590.87 538.6h1.85v1.6h-1.85zM590.87 541.6h1.85v1.6h-1.85zM592.56 460.4h1.85v1.6h-1.85zM592.56 485.5h1.85v1.6h-1.85zM592.56 515.0h1.85v1.6h-1.85zM592.56 540.1h1.85v1.6h-1.85zM594.25 457.4h1.85v1.6h-1.85zM594.25 479.5h1.85v1.6h-1.85zM594.25 482.5h1.85v1.6h-1.85zM594.25 504.6h1.85v1.6h-1.85zM594.25 534.2h1.85v1.6h-1.85zM595.94 464.8h1.85v1.6h-1.85zM595.94 469.2h1.85v1.6h-1.85zM595.94 494.3h1.85v1.6h-1.85zM595.94 498.7h1.85v1.6h-1.85zM595.94 523.8h1.85v1.6h-1.85zM595.94 528.3h1.85v1.6h-1.85zM597.64 457.4h1.85v1.6h-1.85zM597.64 461.8h1.85v1.6h-1.85zM597.64 486.9h1.85v1.6h-1.85zM597.64 491.4h1.85v1.6h-1.85zM597.64 516.5h1.85v1.6h-1.85zM597.64 520.9h1.85v1.6h-1.85zM597.64 546.0h1.85v1.6h-1.85zM599.33 470.7h1.85v1.6h-1.85zM599.33 475.1h1.85v1.6h-1.85zM599.33 504.6h1.85v1.6h-1.85zM599.33 509.1h1.85v1.6h-1.85zM599.33 538.6h1.85v1.6h-1.85zM599.33 543.0h1.85v1.6h-1.85zM601.02 461.8h1.85v1.6h-1.85zM601.02 466.3h1.85v1.6h-1.85zM601.02 495.8h1.85v1.6h-1.85zM601.02 500.2h1.85v1.6h-1.85zM601.02 529.8h1.85v1.6h-1.85zM601.02 534.2h1.85v1.6h-1.85zM602.71 476.6h1.85v1.6h-1.85zM602.71 482.5h1.85v1.6h-1.85zM602.71 515.0h1.85v1.6h-1.85zM602.71 520.9h1.85v1.6h-1.85zM604.40 466.3h1.85v1.6h-1.85zM604.40 472.2h1.85v1.6h-1.85zM604.40 506.1h1.85v1.6h-1.85zM604.40 512.0h1.85v1.6h-1.85zM604.40 544.5h1.85v1.6h-1.85zM604.40 550.4h1.85v1.6h-1.85zM606.09 484.0h1.85v1.6h-1.85zM606.09 489.9h1.85v1.6h-1.85zM606.09 528.3h1.85v3.1h-1.85zM606.09 535.7h1.85v1.6h-1.85zM607.78 472.2h1.85v1.6h-1.85zM607.78 478.1h1.85v3.1h-1.85zM607.78 517.9h1.85v1.6h-1.85zM607.78 523.8h1.85v1.6h-1.85zM609.47 491.4h1.85v3.1h-1.85zM609.47 498.7h1.85v1.6h-1.85zM609.47 544.5h1.85v1.6h-1.85zM609.47 550.4h1.85v1.6h-1.85zM611.16 478.1h1.85v3.1h-1.85zM611.16 485.5h1.85v3.1h-1.85zM611.16 531.2h1.85v1.6h-1.85zM611.16 538.6h1.85v1.6h-1.85zM612.85 501.7h1.85v1.6h-1.85zM612.85 509.1h1.85v3.1h-1.85zM614.54 485.5h1.85v3.1h-1.85zM614.54 494.3h1.85v3.1h-1.85zM614.54 546.0h1.85v3.1h-1.85zM616.23 512.0h1.85v3.1h-1.85zM616.23 520.9h1.85v3.1h-1.85zM617.92 494.3h1.85v3.1h-1.85zM617.92 504.6h1.85v1.6h-1.85zM619.61 457.4h1.85v1.6h-1.85zM619.61 523.8h1.85v3.1h-1.85zM619.61 535.7h1.85v3.1h-1.85zM621.30 504.6h1.85v3.1h-1.85zM621.30 515.0h1.85v3.1h-1.85zM623.00 458.9h1.85v3.1h-1.85zM623.00 538.6h1.85v4.6h-1.85zM624.69 515.0h1.85v4.6h-1.85zM624.69 528.3h1.85v4.6h-1.85zM626.38 463.3h1.85v4.6h-1.85zM628.07 528.3h1.85v4.6h-1.85zM628.07 543.0h1.85v4.6h-1.85zM629.76 467.7h1.85v6.1h-1.85zM631.45 544.5h1.85v4.6h-1.85zM633.14 457.4h1.85v3.1h-1.85zM633.14 473.6h1.85v6.1h-1.85zM636.52 457.4h1.85v7.5h-1.85zM636.52 481.0h1.85v6.1h-1.85zM639.90 461.8h1.85v7.5h-1.85zM639.90 488.4h1.85v7.5h-1.85zM643.28 466.3h1.85v9.0h-1.85zM643.28 497.3h1.85v9.0h-1.85zM646.66 472.2h1.85v10.5h-1.85zM646.66 507.6h1.85v9.0h-1.85zM650.04 478.1h1.85v12.0h-1.85zM650.04 519.4h1.85v10.5h-1.85zM653.43 485.5h1.85v13.4h-1.85zM653.43 532.7h1.85v13.4h-1.85zM655.12 457.4h1.85v3.1h-1.85zM656.81 494.3h1.85v14.9h-1.85zM656.81 548.9h1.85v3.1h-1.85zM658.50 457.4h1.85v9.0h-1.85zM660.19 504.6h1.85v16.4h-1.85zM661.88 457.4h1.85v13.4h-1.85zM663.57 515.0h1.85v20.8h-1.85zM665.26 457.4h1.85v19.3h-1.85zM666.95 528.3h1.85v23.8h-1.85zM668.64 461.8h1.85v22.3h-1.85zM670.33 543.0h1.85v9.0h-1.85zM672.02 466.3h1.85v26.7h-1.85zM675.40 472.2h1.85v29.7h-1.85zM678.79 478.1h1.85v35.6h-1.85zM682.17 485.5h1.85v40.0h-1.85zM685.55 494.3h1.85v45.9h-1.85zM688.93 503.2h1.85v48.9h-1.85zM692.31 515.0h1.85v37.1h-1.85zM695.69 526.8h1.85v25.3h-1.85zM699.07 543.0h1.85v9.0h-1.85z"/>
<path fill="#822a3d" d="M582.42 457.4h1.85v1.6h-1.85zM582.42 510.6h1.85v1.6h-1.85zM582.42 526.8h1.85v1.6h-1.85zM582.42 540.1h1.85v1.6h-1.85zM584.11 489.9h1.85v1.6h-1.85zM584.11 503.2h1.85v1.6h-1.85zM584.11 506.1h1.85v1.6h-1.85zM584.11 519.4h1.85v1.6h-1.85zM585.80 461.8h1.85v1.6h-1.85zM585.80 481.0h1.85v1.6h-1.85zM587.49 517.9h1.85v1.6h-1.85zM587.49 537.1h1.85v1.6h-1.85zM589.18 488.4h1.85v1.6h-1.85zM589.18 510.6h1.85v1.6h-1.85zM589.18 515.0h1.85v1.6h-1.85zM589.18 532.7h1.85v1.6h-1.85zM589.18 537.1h1.85v1.6h-1.85zM590.87 548.9h1.85v1.6h-1.85zM592.56 472.2h1.85v1.6h-1.85zM592.56 503.2h1.85v1.6h-1.85zM592.56 528.3h1.85v1.6h-1.85zM594.25 466.3h1.85v1.6h-1.85zM594.25 491.4h1.85v1.6h-1.85zM594.25 516.5h1.85v1.6h-1.85zM594.25 547.5h1.85v1.6h-1.85zM595.94 537.1h1.85v1.6h-1.85zM595.94 543.0h1.85v1.6h-1.85zM597.64 529.8h1.85v1.6h-1.85zM597.64 535.7h1.85v1.6h-1.85zM599.33 458.9h1.85v1.6h-1.85zM599.33 492.8h1.85v1.6h-1.85zM599.33 526.8h1.85v1.6h-1.85zM601.02 478.1h1.85v1.6h-1.85zM601.02 512.0h1.85v1.6h-1.85zM602.71 463.3h1.85v1.6h-1.85zM602.71 503.2h1.85v1.6h-1.85zM602.71 534.2h1.85v1.6h-1.85zM602.71 541.6h1.85v1.6h-1.85zM604.40 485.5h1.85v1.6h-1.85zM604.40 492.8h1.85v1.6h-1.85zM604.40 523.8h1.85v1.6h-1.85zM606.09 469.2h1.85v1.6h-1.85zM606.09 504.6h1.85v1.6h-1.85zM606.09 513.5h1.85v1.6h-1.85zM606.09 550.4h1.85v1.6h-1.85zM607.78 457.4h1.85v1.6h-1.85zM607.78 503.2h1.85v1.6h-1.85zM607.78 538.6h1.85v1.6h-1.85zM607.78 547.5h1.85v1.6h-1.85zM609.47 464.8h1.85v1.6h-1.85zM609.47 475.1h1.85v1.6h-1.85zM609.47 516.5h1.85v1.6h-1.85zM609.47 526.8h1.85v1.6h-1.85zM611.16 461.8h1.85v1.6h-1.85zM611.16 503.2h1.85v1.6h-1.85zM611.16 513.5h1.85v1.6h-1.85zM612.85 469.2h1.85v1.6h-1.85zM612.85 481.0h1.85v3.1h-1.85zM612.85 529.8h1.85v1.6h-1.85zM612.85 541.6h1.85v1.6h-1.85zM614.54 466.3h1.85v1.6h-1.85zM614.54 515.0h1.85v1.6h-1.85zM614.54 526.8h1.85v1.6h-1.85zM616.23 475.1h1.85v1.6h-1.85zM616.23 489.9h1.85v1.6h-1.85zM616.23 544.5h1.85v1.6h-1.85zM617.92 457.4h1.85v3.1h-1.85zM617.92 472.2h1.85v1.6h-1.85zM617.92 526.8h1.85v3.1h-1.85zM617.92 541.6h1.85v1.6h-1.85zM619.61 482.5h1.85v1.6h-1.85zM619.61 498.7h1.85v1.6h-1.85zM621.30 461.8h1.85v3.1h-1.85zM621.30 478.1h1.85v3.1h-1.85zM621.30 543.0h1.85v1.6h-1.85zM623.00 489.9h1.85v3.1h-1.85zM623.00 509.1h1.85v3.1h-1.85zM624.69 466.3h1.85v3.1h-1.85zM624.69 485.5h1.85v3.1h-1.85zM626.38 498.7h1.85v3.1h-1.85zM626.38 520.9h1.85v3.1h-1.85zM628.07 472.2h1.85v3.1h-1.85zM628.07 494.3h1.85v3.1h-1.85zM629.76 509.1h1.85v4.6h-1.85zM629.76 534.2h1.85v4.6h-1.85zM631.45 478.1h1.85v4.6h-1.85zM631.45 504.6h1.85v3.1h-1.85zM633.14 522.4h1.85v3.1h-1.85zM633.14 550.4h1.85v1.6h-1.85zM634.83 485.5h1.85v4.6h-1.85zM634.83 515.0h1.85v4.6h-1.85zM636.52 535.7h1.85v4.6h-1.85zM638.21 494.3h1.85v4.6h-1.85zM638.21 528.3h1.85v4.6h-1.85zM641.59 504.6h1.85v4.6h-1.85zM641.59 543.0h1.85v6.1h-1.85zM644.97 516.5h1.85v6.1h-1.85zM648.35 528.3h1.85v7.5h-1.85zM651.74 544.5h1.85v7.5h-1.85z"/>
<path fill="#1a70b7" d="M582.42 469.2h1.85v1.6h-1.85zM582.42 482.5h1.85v1.6h-1.85zM582.42 498.7h1.85v1.6h-1.85zM584.11 461.8h1.85v1.6h-1.85zM584.11 478.1h1.85v1.6h-1.85zM584.11 531.2h1.85v1.6h-1.85zM584.11 547.5h1.85v1.6h-1.85zM585.80 475.1h1.85v1.6h-1.85zM585.80 494.3h1.85v1.6h-1.85zM585.80 513.5h1.85v1.6h-1.85zM585.80 528.3h1.85v1.6h-1.85zM585.80 547.5h1.85v1.6h-1.85zM587.49 470.7h1.85v1.6h-1.85zM587.49 485.5h1.85v1.6h-1.85zM587.49 504.6h1.85v1.6h-1.85zM587.49 523.8h1.85v1.6h-1.85zM589.18 460.4h1.85v1.6h-1.85zM590.87 472.2h1.85v1.6h-1.85zM590.87 476.6h1.85v1.6h-1.85zM590.87 494.3h1.85v1.6h-1.85zM590.87 498.7h1.85v1.6h-1.85zM590.87 520.9h1.85v1.6h-1.85zM592.56 464.8h1.85v1.6h-1.85zM592.56 489.9h1.85v1.6h-1.85zM592.56 510.6h1.85v1.6h-1.85zM592.56 535.7h1.85v1.6h-1.85zM594.25 484.0h1.85v1.6h-1.85zM594.25 509.1h1.85v1.6h-1.85zM594.25 529.8h1.85v1.6h-1.85zM595.94 522.4h1.85v1.6h-1.85zM597.64 544.5h1.85v1.6h-1.85zM597.64 550.4h1.85v1.6h-1.85zM599.33 469.2h1.85v1.6h-1.85zM599.33 476.6h1.85v1.6h-1.85zM599.33 503.2h1.85v1.6h-1.85zM599.33 537.1h1.85v1.6h-1.85zM601.02 467.7h1.85v1.6h-1.85zM601.02 494.3h1.85v1.6h-1.85zM601.02 501.7h1.85v1.6h-1.85zM601.02 528.3h1.85v1.6h-1.85zM601.02 535.7h1.85v1.6h-1.85zM602.71 475.1h1.85v1.6h-1.85zM602.71 522.4h1.85v1.6h-1.85zM604.40 473.6h1.85v1.6h-1.85zM604.40 504.6h1.85v1.6h-1.85zM606.09 482.5h1.85v1.6h-1.85zM606.09 491.4h1.85v1.6h-1.85zM606.09 537.1h1.85v1.6h-1.85zM607.78 470.7h1.85v1.6h-1.85zM607.78 516.5h1.85v1.6h-1.85zM607.78 525.3h1.85v1.6h-1.85zM609.47 489.9h1.85v1.6h-1.85zM609.47 500.2h1.85v1.6h-1.85zM609.47 543.0h1.85v1.6h-1.85zM611.16 476.6h1.85v1.6h-1.85zM611.16 488.4h1.85v1.6h-1.85zM611.16 529.8h1.85v1.6h-1.85zM611.16 540.1h1.85v1.6h-1.85zM612.85 500.2h1.85v1.6h-1.85zM612.85 512.0h1.85v1.6h-1.85zM614.54 484.0h1.85v1.6h-1.85zM614.54 497.3h1.85v1.6h-1.85zM614.54 544.5h1.85v1.6h-1.85zM616.23 510.6h1.85v1.6h-1.85zM616.23 523.8h1.85v3.1h-1.85zM617.92 492.8h1.85v1.6h-1.85zM617.92 506.1h1.85v3.1h-1.85zM619.61 458.9h1.85v1.6h-1.85zM619.61 522.4h1.85v1.6h-1.85zM619.61 538.6h1.85v1.6h-1.85zM621.30 501.7h1.85v3.1h-1.85zM621.30 517.9h1.85v3.1h-1.85zM623.00 461.8h1.85v3.1h-1.85zM623.00 537.1h1.85v1.6h-1.85zM624.69 513.5h1.85v1.6h-1.85zM624.69 532.7h1.85v1.6h-1.85zM626.38 467.7h1.85v3.1h-1.85zM628.07 525.3h1.85v3.1h-1.85zM628.07 547.5h1.85v3.1h-1.85zM629.76 473.6h1.85v3.1h-1.85zM631.45 540.1h1.85v4.6h-1.85zM633.14 479.5h1.85v4.6h-1.85zM636.52 486.9h1.85v4.6h-1.85zM639.90 457.4h1.85v4.6h-1.85zM639.90 495.8h1.85v4.6h-1.85zM643.28 460.4h1.85v6.1h-1.85zM643.28 506.1h1.85v6.1h-1.85zM646.66 464.8h1.85v7.5h-1.85zM646.66 516.5h1.85v7.5h-1.85zM648.35 457.4h1.85v3.1h-1.85zM650.04 470.7h1.85v7.5h-1.85zM650.04 529.8h1.85v9.0h-1.85zM651.74 457.4h1.85v7.5h-1.85zM653.43 476.6h1.85v9.0h-1.85zM653.43 546.0h1.85v6.1h-1.85zM655.12 460.4h1.85v10.5h-1.85zM656.81 484.0h1.85v10.5h-1.85zM658.50 466.3h1.85v10.5h-1.85zM660.19 492.8h1.85v12.0h-1.85zM661.88 470.7h1.85v12.0h-1.85zM663.57 501.7h1.85v13.4h-1.85zM665.26 476.6h1.85v14.9h-1.85zM666.95 512.0h1.85v16.4h-1.85zM668.64 484.0h1.85v16.4h-1.85zM670.33 525.3h1.85v17.9h-1.85zM672.02 492.8h1.85v17.9h-1.85zM673.71 540.1h1.85v12.0h-1.85zM675.40 501.7h1.85v22.3h-1.85zM678.79 513.5h1.85v23.8h-1.85zM682.17 525.3h1.85v26.7h-1.85zM685.55 540.1h1.85v12.0h-1.85z"/>
<path fill="#a6343b" d="M582.42 473.6h1.85v1.6h-1.85zM582.42 494.3h1.85v1.6h-1.85zM584.11 457.4h1.85v1.6h-1.85zM584.11 473.6h1.85v1.6h-1.85zM584.11 535.7h1.85v1.6h-1.85zM585.80 466.3h1.85v1.6h-1.85zM587.49 513.5h1.85v1.6h-1.85zM587.49 532.7h1.85v1.6h-1.85zM589.18 466.3h1.85v1.6h-1.85zM590.87 466.3h1.85v1.6h-1.85zM590.87 482.5h1.85v1.6h-1.85zM590.87 488.4h1.85v1.6h-1.85zM590.87 504.6h1.85v1.6h-1.85zM590.87 526.8h1.85v1.6h-1.85zM592.56 478.1h1.85v1.6h-1.85zM592.56 497.3h1.85v1.6h-1.85zM592.56 522.4h1.85v1.6h-1.85zM594.25 497.3h1.85v1.6h-1.85zM594.25 522.4h1.85v1.6h-1.85zM594.25 541.6h1.85v1.6h-1.85zM595.94 478.1h1.85v1.6h-1.85zM595.94 485.5h1.85v1.6h-1.85zM595.94 507.6h1.85v1.6h-1.85zM595.94 515.0h1.85v1.6h-1.85zM597.64 470.7h1.85v1.6h-1.85zM597.64 478.1h1.85v1.6h-1.85zM597.64 500.2h1.85v1.6h-1.85zM597.64 507.6h1.85v1.6h-1.85zM599.33 460.4h1.85v1.6h-1.85zM599.33 485.5h1.85v1.6h-1.85zM599.33 494.3h1.85v1.6h-1.85zM599.33 519.4h1.85v1.6h-1.85zM601.02 476.6h1.85v1.6h-1.85zM601.02 485.5h1.85v1.6h-1.85zM601.02 510.6h1.85v1.6h-1.85zM601.02 519.4h1.85v1.6h-1.85zM601.02 544.5h1.85v1.6h-1.85zM602.71 464.8h1.85v1.6h-1.85zM602.71 494.3h1.85v1.6h-1.85zM602.71 532.7h1.85v1.6h-1.85zM602.71 543.0h1.85v1.6h-1.85zM604.40 484.0h1.85v1.6h-1.85zM604.40 494.3h1.85v1.6h-1.85zM604.40 532.7h1.85v1.6h-1.85zM606.09 458.9h1.85v1.6h-1.85zM606.09 515.0h1.85v1.6h-1.85zM606.09 548.9h1.85v1.6h-1.85zM607.78 458.9h1.85v1.6h-1.85zM607.78 492.8h1.85v1.6h-1.85zM607.78 537.1h1.85v1.6h-1.85zM607.78 548.9h1.85v1.6h-1.85zM609.47 463.3h1.85v1.6h-1.85zM609.47 476.6h1.85v1.6h-1.85zM609.47 515.0h1.85v1.6h-1.85zM609.47 528.3h1.85v1.6h-1.85zM611.16 463.3h1.85v1.6h-1.85zM611.16 501.7h1.85v1.6h-1.85zM611.16 515.0h1.85v1.6h-1.85zM612.85 467.7h1.85v1.6h-1.85zM612.85 528.3h1.85v1.6h-1.85zM612.85 543.0h1.85v1.6h-1.85zM614.54 467.7h1.85v1.6h-1.85zM614.54 513.5h1.85v1.6h-1.85zM614.54 528.3h1.85v1.6h-1.85zM616.23 473.6h1.85v1.6h-1.85zM616.23 491.4h1.85v1.6h-1.85zM616.23 543.0h1.85v1.6h-1.85zM617.92 473.6h1.85v1.6h-1.85zM617.92 525.3h1.85v1.6h-1.85zM617.92 543.0h1.85v1.6h-1.85zM619.61 481.0h1.85v1.6h-1.85zM619.61 500.2h1.85v1.6h-1.85zM621.30 460.4h1.85v1.6h-1.85zM621.30 481.0h1.85v1.6h-1.85zM621.30 540.1h1.85v3.1h-1.85zM623.00 488.4h1.85v1.6h-1.85zM623.00 512.0h1.85v1.6h-1.85zM624.69 464.8h1.85v1.6h-1.85zM624.69 488.4h1.85v1.6h-1.85zM626.38 497.3h1.85v1.6h-1.85zM626.38 523.8h1.85v3.1h-1.85zM628.07 470.7h1.85v1.6h-1.85zM628.07 497.3h1.85v1.6h-1.85zM629.76 507.6h1.85v1.6h-1.85zM629.76 538.6h1.85v3.1h-1.85zM631.45 476.6h1.85v1.6h-1.85zM631.45 507.6h1.85v3.1h-1.85zM633.14 517.9h1.85v4.6h-1.85zM634.83 482.5h1.85v3.1h-1.85zM634.83 519.4h1.85v3.1h-1.85zM636.52 532.7h1.85v3.1h-1.85zM638.21 491.4h1.85v3.1h-1.85zM638.21 532.7h1.85v3.1h-1.85zM639.90 547.5h1.85v4.6h-1.85zM641.59 500.2h1.85v4.6h-1.85zM641.59 548.9h1.85v3.1h-1.85zM644.97 510.6h1.85v6.1h-1.85zM648.35 523.8h1.85v4.6h-1.85zM651.74 537.1h1.85v7.5h-1.85z"/>
<path fill="#1a7cc3" d="M582.42 515.0h1.85v1.6h-1.85zM582.42 535.7h1.85v1.6h-1.85zM584.11 494.3h1.85v1.6h-1.85zM584.11 515.0h1.85v1.6h-1.85zM585.80 470.7h1.85v1.6h-1.85zM585.80 489.9h1.85v1.6h-1.85zM585.80 509.1h1.85v1.6h-1.85zM585.80 532.7h1.85v1.6h-1.85zM587.49 466.3h1.85v1.6h-1.85zM587.49 489.9h1.85v1.6h-1.85zM587.49 509.1h1.85v1.6h-1.85zM589.18 482.5h1.85v1.6h-1.85zM589.18 504.6h1.85v1.6h-1.85zM589.18 520.9h1.85v1.6h-1.85zM589.18 526.8h1.85v1.6h-1.85zM589.18 543.0h1.85v1.6h-1.85zM590.87 543.0h1.85v1.6h-1.85zM592.56 458.9h1.85v1.6h-1.85zM592.56 541.6h1.85v1.6h-1.85zM594.25 458.9h1.85v1.6h-1.85zM594.25 478.1h1.85v1.6h-1.85zM594.25 503.2h1.85v1.6h-1.85zM595.94 463.3h1.85v1.6h-1.85zM595.94 470.7h1.85v1.6h-1.85zM595.94 492.8h1.85v1.6h-1.85zM595.94 500.2h1.85v1.6h-1.85zM595.94 529.8h1.85v1.6h-1.85zM597.64 463.3h1.85v1.6h-1.85zM597.64 485.5h1.85v1.6h-1.85zM597.64 492.8h1.85v1.6h-1.85zM597.64 515.0h1.85v1.6h-1.85zM597.64 522.4h1.85v1.6h-1.85zM599.33 510.6h1.85v1.6h-1.85zM599.33 544.5h1.85v1.6h-1.85zM601.02 460.4h1.85v1.6h-1.85zM602.71 484.0h1.85v1.6h-1.85zM602.71 513.5h1.85v1.6h-1.85zM604.40 464.8h1.85v1.6h-1.85zM604.40 513.5h1.85v1.6h-1.85zM604.40 543.0h1.85v1.6h-1.85zM606.09 481.0h1.85v1.6h-1.85zM606.09 492.8h1.85v1.6h-1.85zM606.09 526.8h1.85v1.6h-1.85zM607.78 481.0h1.85v1.6h-1.85zM607.78 515.0h1.85v1.6h-1.85zM607.78 526.8h1.85v1.6h-1.85zM609.47 501.7h1.85v1.6h-1.85zM609.47 541.6h1.85v1.6h-1.85zM611.16 528.3h1.85v1.6h-1.85zM611.16 541.6h1.85v1.6h-1.85zM612.85 498.7h1.85v1.6h-1.85zM612.85 513.5h1.85v1.6h-1.85zM614.54 482.5h1.85v1.6h-1.85zM614.54 498.7h1.85v1.6h-1.85zM614.54 543.0h1.85v1.6h-1.85zM616.23 509.1h1.85v1.6h-1.85zM616.23 526.8h1.85v1.6h-1.85zM617.92 491.4h1.85v1.6h-1.85zM617.92 509.1h1.85v1.6h-1.85zM619.61 460.4h1.85v1.6h-1.85zM619.61 520.9h1.85v1.6h-1.85zM619.61 540.1h1.85v3.1h-1.85zM621.30 500.2h1.85v1.6h-1.85zM621.30 520.9h1.85v1.6h-1.85zM623.00 464.8h1.85v3.1h-1.85zM623.00 534.2h1.85v3.1h-1.85zM624.69 510.6h1.85v3.1h-1.85zM624.69 534.2h1.85v3.1h-1.85zM626.38 470.7h1.85v1.6h-1.85zM626.38 550.4h1.85v1.6h-1.85zM628.07 523.8h1.85v1.6h-1.85zM628.07 550.4h1.85v1.6h-1.85zM629.76 476.6h1.85v3.1h-1.85zM631.45 537.1h1.85v3.1h-1.85zM633.14 484.0h1.85v3.1h-1.85zM636.52 491.4h1.85v3.1h-1.85zM639.90 500.2h1.85v4.6h-1.85zM643.28 457.4h1.85v3.1h-1.85zM643.28 512.0h1.85v4.6h-1.85zM644.97 457.4h1.85v4.6h-1.85zM646.66 460.4h1.85v4.6h-1.85zM646.66 523.8h1.85v6.1h-1.85zM648.35 460.4h1.85v6.1h-1.85zM650.04 464.8h1.85v6.1h-1.85zM650.04 538.6h1.85v6.1h-1.85zM651.74 464.8h1.85v7.5h-1.85zM653.43 469.2h1.85v7.5h-1.85zM655.12 470.7h1.85v7.5h-1.85zM656.81 475.1h1.85v9.0h-1.85zM658.50 476.6h1.85v9.0h-1.85zM660.19 482.5h1.85v10.5h-1.85zM661.88 482.5h1.85v10.5h-1.85zM663.57 489.9h1.85v12.0h-1.85zM665.26 491.4h1.85v12.0h-1.85zM666.95 498.7h1.85v13.4h-1.85zM668.64 500.2h1.85v13.4h-1.85zM670.33 509.1h1.85v16.4h-1.85zM672.02 510.6h1.85v16.4h-1.85zM673.71 520.9h1.85v19.3h-1.85zM675.40 523.8h1.85v17.9h-1.85zM677.09 535.7h1.85v16.4h-1.85zM678.79 537.1h1.85v14.9h-1.85z"/>
<path fill="#c93d3a" d="M582.42 461.8h1.85v1.6h-1.85zM582.42 478.1h1.85v1.6h-1.85zM582.42 489.9h1.85v1.6h-1.85zM584.11 469.2h1.85v1.6h-1.85zM584.11 540.1h1.85v1.6h-1.85zM585.80 485.5h1.85v1.6h-1.85zM585.80 504.6h1.85v1.6h-1.85zM585.80 517.9h1.85v1.6h-1.85zM585.80 523.8h1.85v1.6h-1.85zM585.80 537.1h1.85v1.6h-1.85zM587.49 461.8h1.85v1.6h-1.85zM587.49 475.1h1.85v1.6h-1.85zM587.49 494.3h1.85v1.6h-1.85zM589.18 472.2h1.85v1.6h-1.85zM589.18 494.3h1.85v1.6h-1.85zM590.87 460.4h1.85v1.6h-1.85zM590.87 510.6h1.85v1.6h-1.85zM590.87 532.7h1.85v1.6h-1.85zM592.56 547.5h1.85v1.6h-1.85zM594.25 464.8h1.85v1.6h-1.85zM594.25 472.2h1.85v1.6h-1.85zM595.94 544.5h1.85v1.6h-1.85zM597.64 537.1h1.85v1.6h-1.85zM599.33 528.3h1.85v1.6h-1.85zM602.71 492.8h1.85v1.6h-1.85zM602.71 504.6h1.85v1.6h-1.85zM604.40 522.4h1.85v1.6h-1.85zM604.40 534.2h1.85v1.6h-1.85zM606.09 457.4h1.85v1.6h-1.85zM606.09 470.7h1.85v1.6h-1.85zM606.09 503.2h1.85v1.6h-1.85zM606.09 516.5h1.85v1.6h-1.85zM607.78 491.4h1.85v1.6h-1.85zM607.78 504.6h1.85v1.6h-1.85zM607.78 550.4h1.85v1.6h-1.85zM609.47 461.8h1.85v1.6h-1.85zM609.47 513.5h1.85v1.6h-1.85zM609.47 529.8h1.85v1.6h-1.85zM611.16 516.5h1.85v1.6h-1.85zM612.85 466.3h1.85v1.6h-1.85zM612.85 484.0h1.85v1.6h-1.85zM612.85 526.8h1.85v1.6h-1.85zM612.85 544.5h1.85v1.6h-1.85zM614.54 469.2h1.85v1.6h-1.85zM614.54 512.0h1.85v1.6h-1.85zM614.54 529.8h1.85v1.6h-1.85zM616.23 472.2h1.85v1.6h-1.85zM616.23 492.8h1.85v1.6h-1.85zM616.23 541.6h1.85v1.6h-1.85zM617.92 475.1h1.85v1.6h-1.85zM617.92 523.8h1.85v1.6h-1.85zM617.92 544.5h1.85v1.6h-1.85zM619.61 478.1h1.85v3.1h-1.85zM619.61 501.7h1.85v3.1h-1.85zM621.30 458.9h1.85v1.6h-1.85zM621.30 482.5h1.85v1.6h-1.85zM621.30 538.6h1.85v1.6h-1.85zM623.00 485.5h1.85v3.1h-1.85zM623.00 513.5h1.85v1.6h-1.85zM624.69 463.3h1.85v1.6h-1.85zM624.69 489.9h1.85v3.1h-1.85zM626.38 494.3h1.85v3.1h-1.85zM626.38 526.8h1.85v1.6h-1.85zM628.07 467.7h1.85v3.1h-1.85zM628.07 498.7h1.85v3.1h-1.85zM629.76 504.6h1.85v3.1h-1.85zM629.76 541.6h1.85v1.6h-1.85zM631.45 473.6h1.85v3.1h-1.85zM631.45 510.6h1.85v1.6h-1.85zM633.14 516.5h1.85v1.6h-1.85zM634.83 479.5h1.85v3.1h-1.85zM634.83 522.4h1.85v3.1h-1.85zM636.52 528.3h1.85v4.6h-1.85zM638.21 488.4h1.85v3.1h-1.85zM638.21 535.7h1.85v4.6h-1.85zM639.90 544.5h1.85v3.1h-1.85zM641.59 495.8h1.85v4.6h-1.85zM644.97 506.1h1.85v4.6h-1.85zM648.35 517.9h1.85v6.1h-1.85zM651.74 531.2h1.85v6.1h-1.85zM655.12 547.5h1.85v4.6h-1.85z"/>
<path fill="#1a88d0" d="M582.42 519.4h1.85v1.6h-1.85zM582.42 531.2h1.85v1.6h-1.85zM582.42 547.5h1.85v1.6h-1.85zM584.11 498.7h1.85v1.6h-1.85zM584.11 510.6h1.85v1.6h-1.85zM584.11 526.8h1.85v1.6h-1.85zM587.49 528.3h1.85v1.6h-1.85zM587.49 547.5h1.85v1.6h-1.85zM589.18 476.6h1.85v1.6h-1.85zM589.18 498.7h1.85v1.6h-1.85zM589.18 548.9h1.85v1.6h-1.85zM590.87 515.0h1.85v1.6h-1.85zM590.87 537.1h1.85v1.6h-1.85zM592.56 484.0h1.85v1.6h-1.85zM592.56 491.4h1.85v1.6h-1.85zM592.56 509.1h1.85v1.6h-1.85zM592.56 516.5h1.85v1.6h-1.85zM594.25 510.6h1.85v1.6h-1.85zM594.25 528.3h1.85v1.6h-1.85zM594.25 535.7h1.85v1.6h-1.85zM599.33 467.7h1.85v1.6h-1.85zM599.33 478.1h1.85v1.6h-1.85zM599.33 501.7h1.85v1.6h-1.85zM599.33 535.7h1.85v1.6h-1.85zM601.02 469.2h1.85v1.6h-1.85zM601.02 492.8h1.85v1.6h-1.85zM601.02 503.2h1.85v1.6h-1.85zM601.02 526.8h1.85v1.6h-1.85zM601.02 537.1h1.85v1.6h-1.85zM602.71 473.6h1.85v1.6h-1.85zM602.71 523.8h1.85v1.6h-1.85zM604.40 475.1h1.85v1.6h-1.85zM604.40 503.2h1.85v1.6h-1.85zM606.09 525.3h1.85v1.6h-1.85zM606.09 538.6h1.85v1.6h-1.85zM607.78 469.2h1.85v1.6h-1.85zM607.78 482.5h1.85v1.6h-1.85zM609.47 488.4h1.85v1.6h-1.85zM609.47 503.2h1.85v1.6h-1.85zM609.47 540.1h1.85v1.6h-1.85zM611.16 475.1h1.85v1.6h-1.85zM611.16 489.9h1.85v1.6h-1.85zM611.16 526.8h1.85v1.6h-1.85zM612.85 497.3h1.85v1.6h-1.85zM612.85 515.0h1.85v1.6h-1.85zM614.54 541.6h1.85v1.6h-1.85zM616.23 457.4h1.85v1.6h-1.85zM616.23 507.6h1.85v1.6h-1.85zM616.23 528.3h1.85v1.6h-1.85zM617.92 489.9h1.85v1.6h-1.85zM617.92 510.6h1.85v1.6h-1.85zM619.61 461.8h1.85v1.6h-1.85zM619.61 519.4h1.85v1.6h-1.85zM619.61 543.0h1.85v1.6h-1.85zM621.30 498.7h1.85v1.6h-1.85zM621.30 522.4h1.85v1.6h-1.85zM623.00 467.7h1.85v1.6h-1.85zM623.00 532.7h1.85v1.6h-1.85zM624.69 509.1h1.85v1.6h-1.85zM624.69 537.1h1.85v1.6h-1.85zM626.38 472.2h1.85v3.1h-1.85zM626.38 547.5h1.85v3.1h-1.85zM628.07 520.9h1.85v3.1h-1.85zM629.76 479.5h1.85v1.6h-1.85zM631.45 535.7h1.85v1.6h-1.85zM633.14 486.9h1.85v3.1h-1.85zM636.52 494.3h1.85v4.6h-1.85zM639.90 504.6h1.85v4.6h-1.85zM641.59 457.4h1.85v4.6h-1.85zM643.28 516.5h1.85v4.6h-1.85zM644.97 461.8h1.85v4.6h-1.85zM646.66 457.4h1.85v3.1h-1.85zM646.66 529.8h1.85v4.6h-1.85zM648.35 466.3h1.85v4.6h-1.85zM650.04 458.9h1.85v6.1h-1.85zM650.04 544.5h1.85v6.1h-1.85zM651.74 472.2h1.85v4.6h-1.85zM653.43 461.8h1.85v7.5h-1.85zM655.12 478.1h1.85v6.1h-1.85zM656.81 467.7h1.85v7.5h-1.85zM658.50 485.5h1.85v7.5h-1.85zM660.19 473.6h1.85v9.0h-1.85zM661.88 492.8h1.85v9.0h-1.85zM663.57 479.5h1.85v10.5h-1.85zM665.26 503.2h1.85v10.5h-1.85zM666.95 486.9h1.85v12.0h-1.85zM668.64 513.5h1.85v12.0h-1.85zM670.33 495.8h1.85v13.4h-1.85zM672.02 526.8h1.85v13.4h-1.85zM673.71 506.1h1.85v14.9h-1.85zM675.40 541.6h1.85v10.5h-1.85zM677.09 516.5h1.85v19.3h-1.85zM680.48 529.8h1.85v22.3h-1.85zM683.86 546.0h1.85v6.1h-1.85z"/>
<path fill="#3698d8" d="M582.42 464.8h1.85v1.6h-1.85zM582.42 503.2h1.85v1.6h-1.85zM584.11 466.3h1.85v1.6h-1.85zM584.11 482.5h1.85v1.6h-1.85zM584.11 543.0h1.85v1.6h-1.85zM585.80 457.4h1.85v1.6h-1.85zM585.80 476.6h1.85v1.6h-1.85zM587.49 522.4h1.85v1.6h-1.85zM587.49 541.6h1.85v1.6h-1.85zM590.87 470.7h1.85v1.6h-1.85zM590.87 478.1h1.85v1.6h-1.85zM590.87 492.8h1.85v1.6h-1.85zM590.87 500.2h1.85v1.6h-1.85zM592.56 466.3h1.85v1.6h-1.85zM592.56 534.2h1.85v1.6h-1.85zM594.25 485.5h1.85v1.6h-1.85zM595.94 472.2h1.85v1.6h-1.85zM595.94 491.4h1.85v1.6h-1.85zM595.94 520.9h1.85v1.6h-1.85zM595.94 550.4h1.85v1.6h-1.85zM597.64 464.8h1.85v1.6h-1.85zM597.64 484.0h1.85v1.6h-1.85zM597.64 513.5h1.85v1.6h-1.85zM597.64 543.0h1.85v1.6h-1.85zM599.33 512.0h1.85v1.6h-1.85zM599.33 546.0h1.85v1.6h-1.85zM601.02 458.9h1.85v1.6h-1.85zM602.71 485.5h1.85v1.6h-1.85zM602.71 512.0h1.85v1.6h-1.85zM604.40 463.3h1.85v1.6h-1.85zM604.40 515.0h1.85v1.6h-1.85zM604.40 541.6h1.85v1.6h-1.85zM606.09 479.5h1.85v1.6h-1.85zM606.09 494.3h1.85v1.6h-1.85zM607.78 467.7h1.85v1.6h-1.85zM607.78 513.5h1.85v1.6h-1.85zM607.78 528.3h1.85v1.6h-1.85zM609.47 486.9h1.85v1.6h-1.85zM609.47 504.6h1.85v1.6h-1.85zM609.47 538.6h1.85v1.6h-1.85zM611.16 473.6h1.85v1.6h-1.85zM611.16 491.4h1.85v1.6h-1.85zM611.16 543.0h1.85v1.6h-1.85zM612.85 495.8h1.85v1.6h-1.85zM614.54 481.0h1.85v1.6h-1.85zM614.54 500.2h1.85v1.6h-1.85zM616.23 458.9h1.85v1.6h-1.85zM616.23 506.1h1.85v1.6h-1.85zM617.92 488.4h1.85v1.6h-1.85zM617.92 512.0h1.85v1.6h-1.85zM619.61 463.3h1.85v1.6h-1.85zM619.61 517.9h1.85v1.6h-1.85zM619.61 544.5h1.85v1.6h-1.85zM621.30 497.3h1.85v1.6h-1.85zM621.30 523.8h1.85v1.6h-1.85zM623.00 469.2h1.85v1.6h-1.85zM623.00 531.2h1.85v1.6h-1.85zM624.69 507.6h1.85v1.6h-1.85zM624.69 538.6h1.85v1.6h-1.85zM626.38 475.1h1.85v1.6h-1.85zM626.38 546.0h1.85v1.6h-1.85zM628.07 519.4h1.85v1.6h-1.85zM629.76 481.0h1.85v3.1h-1.85zM631.45 532.7h1.85v3.1h-1.85zM633.14 489.9h1.85v1.6h-1.85zM634.83 548.9h1.85v3.1h-1.85zM636.52 498.7h1.85v3.1h-1.85zM638.21 457.4h1.85v3.1h-1.85zM639.90 509.1h1.85v3.1h-1.85zM641.59 461.8h1.85v3.1h-1.85zM643.28 520.9h1.85v4.6h-1.85zM644.97 466.3h1.85v3.1h-1.85zM646.66 534.2h1.85v4.6h-1.85zM648.35 470.7h1.85v4.6h-1.85zM650.04 457.4h1.85v1.6h-1.85zM650.04 550.4h1.85v1.6h-1.85zM651.74 476.6h1.85v6.1h-1.85zM653.43 457.4h1.85v4.6h-1.85zM655.12 484.0h1.85v7.5h-1.85zM656.81 460.4h1.85v7.5h-1.85zM658.50 492.8h1.85v7.5h-1.85zM660.19 464.8h1.85v9.0h-1.85zM661.88 501.7h1.85v9.0h-1.85zM663.57 469.2h1.85v10.5h-1.85zM665.26 513.5h1.85v9.0h-1.85zM666.95 476.6h1.85v10.5h-1.85zM668.64 525.3h1.85v12.0h-1.85zM670.33 482.5h1.85v13.4h-1.85zM672.02 540.1h1.85v12.0h-1.85zM673.71 491.4h1.85v14.9h-1.85zM677.09 500.2h1.85v16.4h-1.85zM680.48 510.6h1.85v19.3h-1.85zM683.86 522.4h1.85v23.8h-1.85zM687.24 537.1h1.85v14.9h-1.85z"/>
<path fill="#ec4638" d="M582.42 506.1h1.85v1.6h-1.85zM582.42 522.4h1.85v1.6h-1.85zM582.42 544.5h1.85v1.6h-1.85zM584.11 485.5h1.85v1.6h-1.85zM584.11 523.8h1.85v1.6h-1.85zM585.80 479.5h1.85v1.6h-1.85zM585.80 498.7h1.85v1.6h-1.85zM585.80 543.0h1.85v1.6h-1.85zM587.49 481.0h1.85v1.6h-1.85zM587.49 500.2h1.85v1.6h-1.85zM587.49 519.4h1.85v1.6h-1.85zM589.18 509.1h1.85v1.6h-1.85zM589.18 516.5h1.85v1.6h-1.85zM589.18 531.2h1.85v1.6h-1.85zM589.18 538.6h1.85v1.6h-1.85zM592.56 470.7h1.85v1.6h-1.85zM592.56 504.6h1.85v1.6h-1.85zM592.56 529.8h1.85v1.6h-1.85zM594.25 489.9h1.85v1.6h-1.85zM594.25 515.0h1.85v1.6h-1.85zM594.25 548.9h1.85v1.6h-1.85zM595.94 457.4h1.85v1.6h-1.85zM595.94 476.6h1.85v1.6h-1.85zM595.94 506.1h1.85v1.6h-1.85zM595.94 535.7h1.85v1.6h-1.85zM597.64 479.5h1.85v1.6h-1.85zM597.64 498.7h1.85v1.6h-1.85zM597.64 528.3h1.85v1.6h-1.85zM599.33 484.0h1.85v1.6h-1.85zM599.33 517.9h1.85v1.6h-1.85zM601.02 486.9h1.85v1.6h-1.85zM601.02 520.9h1.85v1.6h-1.85zM601.02 543.0h1.85v1.6h-1.85zM602.71 466.3h1.85v1.6h-1.85zM602.71 531.2h1.85v1.6h-1.85zM602.71 544.5h1.85v1.6h-1.85zM604.40 482.5h1.85v1.6h-1.85zM604.40 495.8h1.85v1.6h-1.85zM606.09 472.2h1.85v1.6h-1.85zM606.09 501.7h1.85v1.6h-1.85zM606.09 547.5h1.85v1.6h-1.85zM607.78 460.4h1.85v1.6h-1.85zM607.78 535.7h1.85v1.6h-1.85zM609.47 478.1h1.85v1.6h-1.85zM611.16 464.8h1.85v1.6h-1.85zM611.16 500.2h1.85v1.6h-1.85zM612.85 485.5h1.85v1.6h-1.85zM612.85 525.3h1.85v1.6h-1.85zM612.85 546.0h1.85v1.6h-1.85zM614.54 470.7h1.85v1.6h-1.85zM614.54 510.6h1.85v1.6h-1.85zM614.54 531.2h1.85v1.6h-1.85zM616.23 470.7h1.85v1.6h-1.85zM616.23 494.3h1.85v1.6h-1.85zM616.23 540.1h1.85v1.6h-1.85zM617.92 476.6h1.85v1.6h-1.85zM617.92 546.0h1.85v1.6h-1.85zM619.61 476.6h1.85v1.6h-1.85zM619.61 504.6h1.85v1.6h-1.85zM621.30 457.4h1.85v1.6h-1.85zM621.30 484.0h1.85v1.6h-1.85zM621.30 537.1h1.85v1.6h-1.85zM623.00 484.0h1.85v1.6h-1.85zM623.00 515.0h1.85v1.6h-1.85zM624.69 461.8h1.85v1.6h-1.85zM624.69 492.8h1.85v1.6h-1.85zM626.38 492.8h1.85v1.6h-1.85zM626.38 528.3h1.85v1.6h-1.85zM628.07 466.3h1.85v1.6h-1.85zM628.07 501.7h1.85v1.6h-1.85zM629.76 501.7h1.85v3.1h-1.85zM629.76 543.0h1.85v3.1h-1.85zM631.45 470.7h1.85v3.1h-1.85zM631.45 512.0h1.85v3.1h-1.85zM633.14 513.5h1.85v3.1h-1.85zM634.83 478.1h1.85v1.6h-1.85zM634.83 525.3h1.85v3.1h-1.85zM636.52 525.3h1.85v3.1h-1.85zM638.21 484.0h1.85v4.6h-1.85zM638.21 540.1h1.85v3.1h-1.85zM639.90 540.1h1.85v4.6h-1.85zM641.59 492.8h1.85v3.1h-1.85zM644.97 503.2h1.85v3.1h-1.85zM648.35 513.5h1.85v4.6h-1.85zM651.74 526.8h1.85v4.6h-1.85zM655.12 541.6h1.85v6.1h-1.85z"/>
<path fill="#52a8e0" d="M582.42 470.7h1.85v1.6h-1.85zM582.42 481.0h1.85v1.6h-1.85zM582.42 486.9h1.85v1.6h-1.85zM584.11 460.4h1.85v1.6h-1.85zM584.11 548.9h1.85v1.6h-1.85zM585.80 495.8h1.85v1.6h-1.85zM585.80 515.0h1.85v1.6h-1.85zM585.80 526.8h1.85v1.6h-1.85zM585.80 546.0h1.85v1.6h-1.85zM587.49 472.2h1.85v1.6h-1.85zM587.49 484.0h1.85v1.6h-1.85zM587.49 503.2h1.85v1.6h-1.85zM589.18 461.8h1.85v1.6h-1.85zM589.18 484.0h1.85v1.6h-1.85zM589.18 506.1h1.85v1.6h-1.85zM590.87 522.4h1.85v1.6h-1.85zM590.87 544.5h1.85v1.6h-1.85zM592.56 457.4h1.85v1.6h-1.85zM592.56 543.0h1.85v1.6h-1.85zM594.25 460.4h1.85v1.6h-1.85zM594.25 476.6h1.85v1.6h-1.85zM595.94 461.8h1.85v1.6h-1.85zM595.94 501.7h1.85v1.6h-1.85zM595.94 531.2h1.85v1.6h-1.85zM597.64 494.3h1.85v1.6h-1.85zM597.64 523.8h1.85v1.6h-1.85zM599.33 466.3h1.85v1.6h-1.85zM599.33 500.2h1.85v1.6h-1.85zM599.33 534.2h1.85v1.6h-1.85zM601.02 470.7h1.85v1.6h-1.85zM601.02 504.6h1.85v1.6h-1.85zM602.71 472.2h1.85v1.6h-1.85zM602.71 525.3h1.85v1.6h-1.85zM602.71 550.4h1.85v1.6h-1.85zM604.40 476.6h1.85v1.6h-1.85zM604.40 501.7h1.85v1.6h-1.85zM606.09 523.8h1.85v1.6h-1.85zM606.09 540.1h1.85v1.6h-1.85zM607.78 484.0h1.85v1.6h-1.85zM607.78 512.0h1.85v1.6h-1.85zM611.16 525.3h1.85v1.6h-1.85zM611.16 544.5h1.85v1.6h-1.85zM612.85 494.3h1.85v1.6h-1.85zM612.85 516.5h1.85v1.6h-1.85zM614.54 479.5h1.85v1.6h-1.85zM614.54 501.7h1.85v1.6h-1.85zM614.54 540.1h1.85v1.6h-1.85zM616.23 460.4h1.85v1.6h-1.85zM616.23 504.6h1.85v1.6h-1.85zM616.23 529.8h1.85v1.6h-1.85zM617.92 486.9h1.85v1.6h-1.85zM619.61 464.8h1.85v1.6h-1.85zM619.61 516.5h1.85v1.6h-1.85zM619.61 546.0h1.85v1.6h-1.85zM621.30 495.8h1.85v1.6h-1.85zM621.30 525.3h1.85v1.6h-1.85zM623.00 470.7h1.85v1.6h-1.85zM623.00 529.8h1.85v1.6h-1.85zM624.69 506.1h1.85v1.6h-1.85zM624.69 540.1h1.85v1.6h-1.85zM626.38 476.6h1.85v1.6h-1.85zM626.38 544.5h1.85v1.6h-1.85zM628.07 517.9h1.85v1.6h-1.85zM629.76 484.0h1.85v1.6h-1.85zM631.45 531.2h1.85v1.6h-1.85zM633.14 491.4h1.85v3.1h-1.85zM634.83 457.4h1.85v1.6h-1.85zM634.83 546.0h1.85v3.1h-1.85zM636.52 501.7h1.85v3.1h-1.85zM638.21 460.4h1.85v3.1h-1.85zM639.90 512.0h1.85v3.1h-1.85zM641.59 464.8h1.85v3.1h-1.85zM643.28 525.3h1.85v3.1h-1.85zM644.97 469.2h1.85v4.6h-1.85zM646.66 538.6h1.85v4.6h-1.85zM648.35 475.1h1.85v4.6h-1.85zM651.74 482.5h1.85v6.1h-1.85zM655.12 491.4h1.85v6.1h-1.85zM656.81 457.4h1.85v3.1h-1.85zM658.50 500.2h1.85v6.1h-1.85zM660.19 457.4h1.85v7.5h-1.85zM661.88 510.6h1.85v7.5h-1.85zM663.57 460.4h1.85v9.0h-1.85zM665.26 522.4h1.85v9.0h-1.85zM666.95 464.8h1.85v12.0h-1.85zM668.64 537.1h1.85v10.5h-1.85zM670.33 470.7h1.85v12.0h-1.85zM673.71 476.6h1.85v14.9h-1.85zM677.09 484.0h1.85v16.4h-1.85zM680.48 492.8h1.85v17.9h-1.85zM683.86 501.7h1.85v20.8h-1.85zM687.24 512.0h1.85v25.3h-1.85zM690.62 525.3h1.85v26.7h-1.85zM694.00 540.1h1.85v12.0h-1.85z"/>
<path fill="#ea685f" d="M582.42 528.3h1.85v1.6h-1.85zM582.42 538.6h1.85v1.6h-1.85zM584.11 501.7h1.85v1.6h-1.85zM584.11 507.6h1.85v1.6h-1.85zM585.80 460.4h1.85v1.6h-1.85zM587.49 538.6h1.85v1.6h-1.85zM589.18 464.8h1.85v1.6h-1.85zM589.18 486.9h1.85v1.6h-1.85zM590.87 503.2h1.85v1.6h-1.85zM590.87 525.3h1.85v1.6h-1.85zM590.87 547.5h1.85v1.6h-1.85zM592.56 479.5h1.85v1.6h-1.85zM592.56 495.8h1.85v1.6h-1.85zM592.56 520.9h1.85v1.6h-1.85zM594.25 498.7h1.85v1.6h-1.85zM594.25 523.8h1.85v1.6h-1.85zM594.25 540.1h1.85v1.6h-1.85zM595.94 486.9h1.85v1.6h-1.85zM595.94 516.5h1.85v1.6h-1.85zM595.94 546.0h1.85v1.6h-1.85zM597.64 469.2h1.85v1.6h-1.85zM597.64 509.1h1.85v1.6h-1.85zM597.64 538.6h1.85v1.6h-1.85zM599.33 461.8h1.85v1.6h-1.85zM599.33 495.8h1.85v1.6h-1.85zM599.33 529.8h1.85v1.6h-1.85zM601.02 475.1h1.85v1.6h-1.85zM601.02 509.1h1.85v1.6h-1.85zM602.71 491.4h1.85v1.6h-1.85zM602.71 506.1h1.85v1.6h-1.85zM604.40 457.4h1.85v1.6h-1.85zM604.40 520.9h1.85v1.6h-1.85zM604.40 535.7h1.85v1.6h-1.85zM606.09 517.9h1.85v1.6h-1.85zM606.09 546.0h1.85v1.6h-1.85zM607.78 489.9h1.85v1.6h-1.85zM607.78 506.1h1.85v1.6h-1.85zM609.47 460.4h1.85v1.6h-1.85zM609.47 479.5h1.85v1.6h-1.85zM609.47 512.0h1.85v1.6h-1.85zM609.47 531.2h1.85v1.6h-1.85zM611.16 466.3h1.85v1.6h-1.85zM611.16 498.7h1.85v1.6h-1.85zM611.16 517.9h1.85v1.6h-1.85zM612.85 464.8h1.85v1.6h-1.85zM612.85 486.9h1.85v1.6h-1.85zM616.23 469.2h1.85v1.6h-1.85zM616.23 495.8h1.85v1.6h-1.85zM617.92 478.1h1.85v1.6h-1.85zM617.92 522.4h1.85v1.6h-1.85zM617.92 547.5h1.85v1.6h-1.85zM619.61 506.1h1.85v1.6h-1.85zM621.30 485.5h1.85v1.6h-1.85zM621.30 535.7h1.85v1.6h-1.85zM623.00 482.5h1.85v1.6h-1.85zM623.00 516.5h1.85v1.6h-1.85zM624.69 460.4h1.85v1.6h-1.85zM624.69 494.3h1.85v1.6h-1.85zM626.38 491.4h1.85v1.6h-1.85zM626.38 529.8h1.85v3.1h-1.85zM628.07 463.3h1.85v3.1h-1.85zM628.07 503.2h1.85v1.6h-1.85zM629.76 500.2h1.85v1.6h-1.85zM629.76 546.0h1.85v1.6h-1.85zM631.45 469.2h1.85v1.6h-1.85zM631.45 515.0h1.85v1.6h-1.85zM633.14 510.6h1.85v3.1h-1.85zM634.83 475.1h1.85v3.1h-1.85zM634.83 528.3h1.85v1.6h-1.85zM636.52 522.4h1.85v3.1h-1.85zM638.21 482.5h1.85v1.6h-1.85zM638.21 543.0h1.85v3.1h-1.85zM639.90 537.1h1.85v3.1h-1.85zM641.59 489.9h1.85v3.1h-1.85zM644.97 498.7h1.85v4.6h-1.85zM648.35 509.1h1.85v4.6h-1.85zM651.74 520.9h1.85v6.1h-1.85zM655.12 535.7h1.85v6.1h-1.85z"/>
<path fill="#6eb8e8" d="M582.42 497.3h1.85v1.6h-1.85zM584.11 476.6h1.85v1.6h-1.85zM584.11 532.7h1.85v1.6h-1.85zM585.80 488.4h1.85v1.6h-1.85zM585.80 507.6h1.85v1.6h-1.85zM585.80 534.2h1.85v1.6h-1.85zM587.49 464.8h1.85v1.6h-1.85zM587.49 491.4h1.85v1.6h-1.85zM587.49 510.6h1.85v1.6h-1.85zM589.18 519.4h1.85v1.6h-1.85zM589.18 528.3h1.85v1.6h-1.85zM589.18 541.6h1.85v1.6h-1.85zM589.18 550.4h1.85v1.6h-1.85zM592.56 482.5h1.85v1.6h-1.85zM592.56 492.8h1.85v1.6h-1.85zM592.56 517.9h1.85v1.6h-1.85zM594.25 501.7h1.85v1.6h-1.85zM594.25 526.8h1.85v1.6h-1.85zM594.25 537.1h1.85v1.6h-1.85zM595.94 548.9h1.85v1.6h-1.85zM599.33 479.5h1.85v1.6h-1.85zM599.33 513.5h1.85v1.6h-1.85zM599.33 547.5h1.85v1.6h-1.85zM601.02 457.4h1.85v1.6h-1.85zM601.02 491.4h1.85v1.6h-1.85zM601.02 525.3h1.85v1.6h-1.85zM601.02 538.6h1.85v1.6h-1.85zM602.71 486.9h1.85v1.6h-1.85zM602.71 510.6h1.85v1.6h-1.85zM604.40 461.8h1.85v1.6h-1.85zM604.40 516.5h1.85v1.6h-1.85zM604.40 540.1h1.85v1.6h-1.85zM606.09 478.1h1.85v1.6h-1.85zM606.09 495.8h1.85v1.6h-1.85zM607.78 466.3h1.85v1.6h-1.85zM607.78 529.8h1.85v1.6h-1.85zM609.47 485.5h1.85v1.6h-1.85zM609.47 506.1h1.85v1.6h-1.85zM609.47 537.1h1.85v1.6h-1.85zM611.16 472.2h1.85v1.6h-1.85zM611.16 492.8h1.85v1.6h-1.85zM611.16 523.8h1.85v1.6h-1.85zM612.85 457.4h1.85v1.6h-1.85zM612.85 517.9h1.85v1.6h-1.85zM614.54 478.1h1.85v1.6h-1.85zM614.54 503.2h1.85v1.6h-1.85zM614.54 538.6h1.85v1.6h-1.85zM616.23 461.8h1.85v1.6h-1.85zM616.23 503.2h1.85v1.6h-1.85zM616.23 531.2h1.85v1.6h-1.85zM617.92 485.5h1.85v1.6h-1.85zM617.92 513.5h1.85v1.6h-1.85zM619.61 466.3h1.85v1.6h-1.85zM619.61 515.0h1.85v1.6h-1.85zM619.61 547.5h1.85v1.6h-1.85zM621.30 494.3h1.85v1.6h-1.85zM621.30 526.8h1.85v1.6h-1.85zM623.00 472.2h1.85v1.6h-1.85zM623.00 528.3h1.85v1.6h-1.85zM624.69 504.6h1.85v1.6h-1.85zM624.69 541.6h1.85v1.6h-1.85zM626.38 478.1h1.85v3.1h-1.85zM626.38 543.0h1.85v1.6h-1.85zM628.07 516.5h1.85v1.6h-1.85zM629.76 485.5h1.85v3.1h-1.85zM631.45 528.3h1.85v3.1h-1.85zM633.14 494.3h1.85v3.1h-1.85zM634.83 458.9h1.85v3.1h-1.85zM634.83 544.5h1.85v1.6h-1.85zM636.52 504.6h1.85v3.1h-1.85zM638.21 463.3h1.85v3.1h-1.85zM639.90 515.0h1.85v4.6h-1.85zM641.59 467.7h1.85v3.1h-1.85zM643.28 528.3h1.85v4.6h-1.85zM644.97 473.6h1.85v3.1h-1.85zM646.66 543.0h1.85v4.6h-1.85zM648.35 479.5h1.85v4.6h-1.85zM651.74 488.4h1.85v4.6h-1.85zM655.12 497.3h1.85v4.6h-1.85zM658.50 506.1h1.85v7.5h-1.85zM661.88 517.9h1.85v7.5h-1.85zM663.57 457.4h1.85v3.1h-1.85zM665.26 531.2h1.85v9.0h-1.85zM666.95 457.4h1.85v7.5h-1.85zM668.64 547.5h1.85v4.6h-1.85zM670.33 458.9h1.85v12.0h-1.85zM673.71 463.3h1.85v13.4h-1.85zM677.09 467.7h1.85v16.4h-1.85zM680.48 473.6h1.85v19.3h-1.85zM683.86 481.0h1.85v20.8h-1.85zM687.24 488.4h1.85v23.8h-1.85zM690.62 497.3h1.85v28.2h-1.85zM694.00 507.6h1.85v32.6h-1.85zM697.38 519.4h1.85v32.6h-1.85zM700.76 532.7h1.85v19.3h-1.85zM704.14 548.9h1.85v3.1h-1.85z"/>
<path fill="#e88a86" d="M582.42 512.0h1.85v1.6h-1.85zM584.11 491.4h1.85v1.6h-1.85zM584.11 517.9h1.85v1.6h-1.85zM584.11 534.2h1.85v1.6h-1.85zM585.80 467.7h1.85v1.6h-1.85zM587.49 531.2h1.85v1.6h-1.85zM587.49 550.4h1.85v1.6h-1.85zM590.87 458.9h1.85v1.6h-1.85zM590.87 467.7h1.85v1.6h-1.85zM590.87 481.0h1.85v1.6h-1.85zM590.87 489.9h1.85v1.6h-1.85zM592.56 546.0h1.85v1.6h-1.85zM594.25 463.3h1.85v1.6h-1.85zM594.25 473.6h1.85v1.6h-1.85zM599.33 516.5h1.85v1.6h-1.85zM599.33 550.4h1.85v1.6h-1.85zM602.71 467.7h1.85v1.6h-1.85zM602.71 546.0h1.85v1.6h-1.85zM604.40 481.0h1.85v1.6h-1.85zM604.40 497.3h1.85v1.6h-1.85zM606.09 473.6h1.85v1.6h-1.85zM606.09 500.2h1.85v1.6h-1.85zM607.78 461.8h1.85v1.6h-1.85zM607.78 507.6h1.85v1.6h-1.85zM607.78 534.2h1.85v1.6h-1.85zM609.47 458.9h1.85v1.6h-1.85zM611.16 519.4h1.85v1.6h-1.85zM611.16 550.4h1.85v1.6h-1.85zM612.85 463.3h1.85v1.6h-1.85zM612.85 523.8h1.85v1.6h-1.85zM612.85 547.5h1.85v1.6h-1.85zM614.54 472.2h1.85v1.6h-1.85zM614.54 509.1h1.85v1.6h-1.85zM614.54 532.7h1.85v1.6h-1.85zM616.23 538.6h1.85v1.6h-1.85zM617.92 479.5h1.85v1.6h-1.85zM617.92 520.9h1.85v1.6h-1.85zM617.92 548.9h1.85v1.6h-1.85zM619.61 475.1h1.85v1.6h-1.85zM621.30 486.9h1.85v1.6h-1.85zM621.30 534.2h1.85v1.6h-1.85zM623.00 481.0h1.85v1.6h-1.85zM623.00 517.9h1.85v3.1h-1.85zM624.69 457.4h1.85v3.1h-1.85zM624.69 495.8h1.85v1.6h-1.85zM624.69 550.4h1.85v1.6h-1.85zM626.38 488.4h1.85v3.1h-1.85zM626.38 532.7h1.85v1.6h-1.85zM628.07 461.8h1.85v1.6h-1.85zM628.07 504.6h1.85v3.1h-1.85zM629.76 497.3h1.85v3.1h-1.85zM629.76 547.5h1.85v3.1h-1.85zM631.45 467.7h1.85v1.6h-1.85zM631.45 516.5h1.85v3.1h-1.85zM633.14 507.6h1.85v3.1h-1.85zM634.83 472.2h1.85v3.1h-1.85zM634.83 529.8h1.85v3.1h-1.85zM636.52 520.9h1.85v1.6h-1.85zM638.21 479.5h1.85v3.1h-1.85zM638.21 546.0h1.85v3.1h-1.85zM639.90 534.2h1.85v3.1h-1.85zM641.59 486.9h1.85v3.1h-1.85zM643.28 550.4h1.85v1.6h-1.85zM644.97 494.3h1.85v4.6h-1.85zM648.35 504.6h1.85v4.6h-1.85zM651.74 516.5h1.85v4.6h-1.85zM655.12 529.8h1.85v6.1h-1.85zM658.50 544.5h1.85v7.5h-1.85z"/>
<path fill="#e6acac" d="M582.42 472.2h1.85v1.6h-1.85zM582.42 495.8h1.85v1.6h-1.85zM584.11 458.9h1.85v1.6h-1.85zM584.11 475.1h1.85v1.6h-1.85zM584.11 550.4h1.85v1.6h-1.85zM585.80 486.9h1.85v1.6h-1.85zM585.80 506.1h1.85v1.6h-1.85zM585.80 535.7h1.85v1.6h-1.85zM587.49 492.8h1.85v1.6h-1.85zM587.49 512.0h1.85v1.6h-1.85zM589.18 473.6h1.85v1.6h-1.85zM589.18 495.8h1.85v1.6h-1.85zM590.87 512.0h1.85v1.6h-1.85zM590.87 534.2h1.85v1.6h-1.85zM592.56 469.2h1.85v1.6h-1.85zM592.56 531.2h1.85v1.6h-1.85zM594.25 488.4h1.85v1.6h-1.85zM594.25 550.4h1.85v1.6h-1.85zM595.94 458.9h1.85v1.6h-1.85zM595.94 475.1h1.85v1.6h-1.85zM595.94 504.6h1.85v1.6h-1.85zM595.94 534.2h1.85v1.6h-1.85zM597.64 481.0h1.85v1.6h-1.85zM597.64 497.3h1.85v1.6h-1.85zM597.64 526.8h1.85v1.6h-1.85zM599.33 463.3h1.85v1.6h-1.85zM599.33 482.5h1.85v1.6h-1.85zM599.33 497.3h1.85v1.6h-1.85zM601.02 473.6h1.85v1.6h-1.85zM601.02 488.4h1.85v1.6h-1.85zM601.02 507.6h1.85v1.6h-1.85zM601.02 522.4h1.85v1.6h-1.85zM601.02 541.6h1.85v1.6h-1.85zM602.71 507.6h1.85v1.6h-1.85zM602.71 529.8h1.85v1.6h-1.85zM604.40 519.4h1.85v1.6h-1.85zM606.09 519.4h1.85v1.6h-1.85zM606.09 544.5h1.85v1.6h-1.85zM607.78 488.4h1.85v1.6h-1.85zM609.47 481.0h1.85v1.6h-1.85zM609.47 510.6h1.85v1.6h-1.85zM609.47 532.7h1.85v1.6h-1.85zM611.16 467.7h1.85v1.6h-1.85zM611.16 497.3h1.85v1.6h-1.85zM612.85 488.4h1.85v1.6h-1.85zM612.85 522.4h1.85v1.6h-1.85zM612.85 548.9h1.85v1.6h-1.85zM614.54 473.6h1.85v1.6h-1.85zM614.54 507.6h1.85v1.6h-1.85zM614.54 534.2h1.85v1.6h-1.85zM616.23 467.7h1.85v1.6h-1.85zM616.23 497.3h1.85v1.6h-1.85zM616.23 537.1h1.85v1.6h-1.85zM617.92 519.4h1.85v1.6h-1.85zM617.92 550.4h1.85v1.6h-1.85zM619.61 473.6h1.85v1.6h-1.85zM619.61 507.6h1.85v1.6h-1.85zM621.30 488.4h1.85v1.6h-1.85zM623.00 479.5h1.85v1.6h-1.85zM623.00 520.9h1.85v1.6h-1.85zM624.69 497.3h1.85v1.6h-1.85zM624.69 548.9h1.85v1.6h-1.85zM626.38 486.9h1.85v1.6h-1.85zM626.38 534.2h1.85v1.6h-1.85zM628.07 460.4h1.85v1.6h-1.85zM628.07 507.6h1.85v1.6h-1.85zM629.76 495.8h1.85v1.6h-1.85zM629.76 550.4h1.85v1.6h-1.85zM631.45 464.8h1.85v3.1h-1.85zM631.45 519.4h1.85v1.6h-1.85zM633.14 506.1h1.85v1.6h-1.85zM634.83 470.7h1.85v1.6h-1.85zM634.83 532.7h1.85v1.6h-1.85zM636.52 517.9h1.85v3.1h-1.85zM638.21 476.6h1.85v3.1h-1.85zM638.21 548.9h1.85v1.6h-1.85zM639.90 531.2h1.85v3.1h-1.85zM641.59 484.0h1.85v3.1h-1.85zM643.28 546.0h1.85v4.6h-1.85zM644.97 491.4h1.85v3.1h-1.85zM648.35 500.2h1.85v4.6h-1.85zM651.74 512.0h1.85v4.6h-1.85zM655.12 523.8h1.85v6.1h-1.85zM658.50 538.6h1.85v6.1h-1.85z"/>
<path fill="#95cbee" d="M582.42 513.5h1.85v1.6h-1.85zM582.42 537.1h1.85v1.6h-1.85zM584.11 492.8h1.85v1.6h-1.85zM584.11 516.5h1.85v1.6h-1.85zM585.80 469.2h1.85v1.6h-1.85zM587.49 529.8h1.85v1.6h-1.85zM587.49 548.9h1.85v1.6h-1.85zM589.18 475.1h1.85v1.6h-1.85zM589.18 497.3h1.85v1.6h-1.85zM590.87 513.5h1.85v1.6h-1.85zM590.87 535.7h1.85v1.6h-1.85zM592.56 467.7h1.85v1.6h-1.85zM592.56 507.6h1.85v1.6h-1.85zM592.56 532.7h1.85v1.6h-1.85zM594.25 486.9h1.85v1.6h-1.85zM594.25 512.0h1.85v1.6h-1.85zM595.94 473.6h1.85v1.6h-1.85zM595.94 489.9h1.85v1.6h-1.85zM595.94 519.4h1.85v1.6h-1.85zM597.64 466.3h1.85v1.6h-1.85zM597.64 482.5h1.85v1.6h-1.85zM597.64 512.0h1.85v1.6h-1.85zM597.64 541.6h1.85v1.6h-1.85zM602.71 470.7h1.85v1.6h-1.85zM602.71 526.8h1.85v1.6h-1.85zM602.71 548.9h1.85v1.6h-1.85zM604.40 478.1h1.85v1.6h-1.85zM604.40 500.2h1.85v1.6h-1.85zM606.09 522.4h1.85v1.6h-1.85zM606.09 541.6h1.85v1.6h-1.85zM607.78 485.5h1.85v1.6h-1.85zM607.78 510.6h1.85v1.6h-1.85zM609.47 484.0h1.85v1.6h-1.85zM611.16 494.3h1.85v1.6h-1.85zM611.16 546.0h1.85v1.6h-1.85zM612.85 458.9h1.85v1.6h-1.85zM612.85 492.8h1.85v1.6h-1.85zM616.23 463.3h1.85v1.6h-1.85zM616.23 501.7h1.85v1.6h-1.85zM616.23 532.7h1.85v1.6h-1.85zM617.92 515.0h1.85v1.6h-1.85zM619.61 467.7h1.85v1.6h-1.85zM619.61 513.5h1.85v1.6h-1.85zM619.61 548.9h1.85v1.6h-1.85zM621.30 492.8h1.85v1.6h-1.85zM621.30 528.3h1.85v1.6h-1.85zM623.00 473.6h1.85v1.6h-1.85zM623.00 526.8h1.85v1.6h-1.85zM624.69 503.2h1.85v1.6h-1.85zM624.69 543.0h1.85v1.6h-1.85zM626.38 481.0h1.85v1.6h-1.85zM626.38 540.1h1.85v3.1h-1.85zM628.07 513.5h1.85v3.1h-1.85zM629.76 488.4h1.85v1.6h-1.85zM631.45 457.4h1.85v1.6h-1.85zM631.45 526.8h1.85v1.6h-1.85zM633.14 497.3h1.85v1.6h-1.85zM634.83 461.8h1.85v1.6h-1.85zM634.83 541.6h1.85v3.1h-1.85zM636.52 507.6h1.85v1.6h-1.85zM638.21 466.3h1.85v1.6h-1.85zM639.90 519.4h1.85v3.1h-1.85zM641.59 470.7h1.85v3.1h-1.85zM643.28 532.7h1.85v3.1h-1.85zM644.97 476.6h1.85v4.6h-1.85zM646.66 547.5h1.85v4.6h-1.85zM648.35 484.0h1.85v4.6h-1.85zM651.74 492.8h1.85v4.6h-1.85zM655.12 501.7h1.85v6.1h-1.85zM658.50 513.5h1.85v6.1h-1.85zM661.88 525.3h1.85v7.5h-1.85zM665.26 540.1h1.85v9.0h-1.85zM670.33 457.4h1.85v1.6h-1.85zM673.71 457.4h1.85v6.1h-1.85zM677.09 457.4h1.85v10.5h-1.85zM680.48 457.4h1.85v16.4h-1.85zM683.86 460.4h1.85v20.8h-1.85zM687.24 464.8h1.85v23.8h-1.85zM690.62 470.7h1.85v26.7h-1.85zM694.00 476.6h1.85v31.2h-1.85zM697.38 484.0h1.85v35.6h-1.85zM700.76 491.4h1.85v41.5h-1.85zM704.14 501.7h1.85v47.4h-1.85zM707.53 512.0h1.85v40.0h-1.85zM710.91 525.3h1.85v26.7h-1.85zM714.29 540.1h1.85v12.0h-1.85z"/>
<path fill="#e4ced3" d="M582.42 479.5h1.85v1.6h-1.85zM582.42 488.4h1.85v1.6h-1.85zM584.11 467.7h1.85v1.6h-1.85zM584.11 541.6h1.85v1.6h-1.85zM585.80 497.3h1.85v1.6h-1.85zM585.80 516.5h1.85v1.6h-1.85zM585.80 525.3h1.85v1.6h-1.85zM585.80 544.5h1.85v1.6h-1.85zM587.49 463.3h1.85v1.6h-1.85zM587.49 473.6h1.85v1.6h-1.85zM587.49 482.5h1.85v1.6h-1.85zM589.18 507.6h1.85v1.6h-1.85zM589.18 517.9h1.85v1.6h-1.85zM589.18 529.8h1.85v1.6h-1.85zM589.18 540.1h1.85v1.6h-1.85zM592.56 494.3h1.85v1.6h-1.85zM592.56 506.1h1.85v1.6h-1.85zM594.25 513.5h1.85v1.6h-1.85zM594.25 525.3h1.85v1.6h-1.85zM594.25 538.6h1.85v1.6h-1.85zM595.94 488.4h1.85v1.6h-1.85zM595.94 517.9h1.85v1.6h-1.85zM595.94 547.5h1.85v1.6h-1.85zM597.64 467.7h1.85v1.6h-1.85zM597.64 510.6h1.85v1.6h-1.85zM597.64 540.1h1.85v1.6h-1.85zM599.33 531.2h1.85v1.6h-1.85zM602.71 489.9h1.85v1.6h-1.85zM604.40 458.9h1.85v1.6h-1.85zM604.40 537.1h1.85v1.6h-1.85zM606.09 475.1h1.85v1.6h-1.85zM606.09 498.7h1.85v1.6h-1.85zM607.78 463.3h1.85v1.6h-1.85zM607.78 509.1h1.85v1.6h-1.85zM607.78 532.7h1.85v1.6h-1.85zM609.47 457.4h1.85v1.6h-1.85zM609.47 509.1h1.85v1.6h-1.85zM609.47 534.2h1.85v1.6h-1.85zM611.16 520.9h1.85v1.6h-1.85zM611.16 548.9h1.85v1.6h-1.85zM612.85 461.8h1.85v1.6h-1.85zM612.85 489.9h1.85v1.6h-1.85zM616.23 466.3h1.85v1.6h-1.85zM616.23 498.7h1.85v1.6h-1.85zM616.23 535.7h1.85v1.6h-1.85zM617.92 481.0h1.85v1.6h-1.85zM617.92 517.9h1.85v1.6h-1.85zM619.61 472.2h1.85v1.6h-1.85zM619.61 509.1h1.85v1.6h-1.85zM621.30 489.9h1.85v1.6h-1.85zM621.30 532.7h1.85v1.6h-1.85zM623.00 478.1h1.85v1.6h-1.85zM623.00 522.4h1.85v1.6h-1.85zM624.69 498.7h1.85v1.6h-1.85zM624.69 547.5h1.85v1.6h-1.85zM626.38 485.5h1.85v1.6h-1.85zM626.38 535.7h1.85v1.6h-1.85zM628.07 458.9h1.85v1.6h-1.85zM628.07 509.1h1.85v1.6h-1.85zM629.76 494.3h1.85v1.6h-1.85zM631.45 463.3h1.85v1.6h-1.85zM631.45 520.9h1.85v1.6h-1.85zM633.14 503.2h1.85v3.1h-1.85zM634.83 467.7h1.85v3.1h-1.85zM634.83 534.2h1.85v3.1h-1.85zM636.52 515.0h1.85v3.1h-1.85zM638.21 473.6h1.85v3.1h-1.85zM638.21 550.4h1.85v1.6h-1.85zM639.90 528.3h1.85v3.1h-1.85zM641.59 479.5h1.85v4.6h-1.85zM643.28 543.0h1.85v3.1h-1.85zM644.97 488.4h1.85v3.1h-1.85zM648.35 497.3h1.85v3.1h-1.85zM651.74 506.1h1.85v6.1h-1.85zM655.12 517.9h1.85v6.1h-1.85zM658.50 532.7h1.85v6.1h-1.85zM661.88 547.5h1.85v4.6h-1.85z"/>
<path fill="#bbddf4" d="M582.42 520.9h1.85v1.6h-1.85zM582.42 529.8h1.85v1.6h-1.85zM584.11 500.2h1.85v1.6h-1.85zM584.11 509.1h1.85v1.6h-1.85zM587.49 540.1h1.85v1.6h-1.85zM590.87 457.4h1.85v1.6h-1.85zM590.87 469.2h1.85v1.6h-1.85zM590.87 479.5h1.85v1.6h-1.85zM590.87 491.4h1.85v1.6h-1.85zM590.87 501.7h1.85v1.6h-1.85zM594.25 461.8h1.85v1.6h-1.85zM594.25 475.1h1.85v1.6h-1.85zM595.94 460.4h1.85v1.6h-1.85zM595.94 503.2h1.85v1.6h-1.85zM595.94 532.7h1.85v1.6h-1.85zM597.64 495.8h1.85v1.6h-1.85zM597.64 525.3h1.85v1.6h-1.85zM599.33 464.8h1.85v1.6h-1.85zM599.33 498.7h1.85v1.6h-1.85zM599.33 532.7h1.85v1.6h-1.85zM601.02 472.2h1.85v1.6h-1.85zM601.02 506.1h1.85v1.6h-1.85zM601.02 523.8h1.85v1.6h-1.85zM601.02 540.1h1.85v1.6h-1.85zM602.71 488.4h1.85v1.6h-1.85zM602.71 509.1h1.85v1.6h-1.85zM604.40 460.4h1.85v1.6h-1.85zM604.40 517.9h1.85v1.6h-1.85zM604.40 538.6h1.85v1.6h-1.85zM606.09 476.6h1.85v1.6h-1.85zM606.09 497.3h1.85v1.6h-1.85zM607.78 464.8h1.85v1.6h-1.85zM607.78 531.2h1.85v1.6h-1.85zM609.47 507.6h1.85v1.6h-1.85zM609.47 535.7h1.85v1.6h-1.85zM611.16 470.7h1.85v1.6h-1.85zM611.16 522.4h1.85v1.6h-1.85zM612.85 491.4h1.85v1.6h-1.85zM612.85 519.4h1.85v1.6h-1.85zM614.54 476.6h1.85v1.6h-1.85zM614.54 504.6h1.85v1.6h-1.85zM614.54 537.1h1.85v1.6h-1.85zM616.23 534.2h1.85v1.6h-1.85zM617.92 484.0h1.85v1.6h-1.85zM617.92 516.5h1.85v1.6h-1.85zM619.61 469.2h1.85v1.6h-1.85zM619.61 512.0h1.85v1.6h-1.85zM621.30 491.4h1.85v1.6h-1.85zM621.30 529.8h1.85v1.6h-1.85zM623.00 475.1h1.85v1.6h-1.85zM623.00 525.3h1.85v1.6h-1.85zM624.69 501.7h1.85v1.6h-1.85zM624.69 544.5h1.85v1.6h-1.85zM626.38 482.5h1.85v1.6h-1.85zM626.38 538.6h1.85v1.6h-1.85zM628.07 512.0h1.85v1.6h-1.85zM629.76 489.9h1.85v1.6h-1.85zM631.45 458.9h1.85v1.6h-1.85zM631.45 525.3h1.85v1.6h-1.85zM633.14 498.7h1.85v3.1h-1.85zM634.83 463.3h1.85v3.1h-1.85zM634.83 540.1h1.85v1.6h-1.85zM636.52 509.1h1.85v3.1h-1.85zM638.21 467.7h1.85v3.1h-1.85zM639.90 522.4h1.85v3.1h-1.85zM641.59 473.6h1.85v3.1h-1.85zM643.28 535.7h1.85v4.6h-1.85zM644.97 481.0h1.85v3.1h-1.85zM648.35 488.4h1.85v4.6h-1.85zM651.74 497.3h1.85v4.6h-1.85zM655.12 507.6h1.85v6.1h-1.85zM658.50 519.4h1.85v6.1h-1.85zM661.88 532.7h1.85v7.5h-1.85zM665.26 548.9h1.85v3.1h-1.85zM683.86 457.4h1.85v3.1h-1.85zM687.24 457.4h1.85v7.5h-1.85zM690.62 457.4h1.85v13.4h-1.85zM694.00 457.4h1.85v19.3h-1.85zM697.38 457.4h1.85v26.7h-1.85zM700.76 457.4h1.85v34.1h-1.85zM704.14 457.4h1.85v44.4h-1.85zM707.53 457.4h1.85v54.8h-1.85zM710.91 461.8h1.85v63.6h-1.85zM714.29 467.7h1.85v72.5h-1.85zM717.67 472.2h1.85v79.9h-1.85zM721.05 479.5h1.85v72.5h-1.85zM724.43 486.9h1.85v65.1h-1.85zM727.81 495.8h1.85v56.3h-1.85zM731.19 504.6h1.85v47.4h-1.85zM734.58 516.5h1.85v35.6h-1.85zM737.96 529.8h1.85v22.3h-1.85zM741.34 544.5h1.85v7.5h-1.85z"/>
<path fill="#e2f0fa" d="M582.42 463.3h1.85v1.6h-1.85zM582.42 504.6h1.85v1.6h-1.85zM582.42 546.0h1.85v1.6h-1.85zM584.11 484.0h1.85v1.6h-1.85zM584.11 525.3h1.85v1.6h-1.85zM585.80 458.9h1.85v1.6h-1.85zM585.80 478.1h1.85v1.6h-1.85zM587.49 501.7h1.85v1.6h-1.85zM587.49 520.9h1.85v1.6h-1.85zM589.18 463.3h1.85v1.6h-1.85zM589.18 485.5h1.85v1.6h-1.85zM590.87 523.8h1.85v1.6h-1.85zM590.87 546.0h1.85v1.6h-1.85zM592.56 481.0h1.85v1.6h-1.85zM592.56 519.4h1.85v1.6h-1.85zM592.56 544.5h1.85v1.6h-1.85zM594.25 500.2h1.85v1.6h-1.85zM599.33 481.0h1.85v1.6h-1.85zM599.33 515.0h1.85v1.6h-1.85zM599.33 548.9h1.85v1.6h-1.85zM601.02 489.9h1.85v1.6h-1.85zM602.71 469.2h1.85v1.6h-1.85zM602.71 528.3h1.85v1.6h-1.85zM602.71 547.5h1.85v1.6h-1.85zM604.40 479.5h1.85v1.6h-1.85zM604.40 498.7h1.85v1.6h-1.85zM606.09 520.9h1.85v1.6h-1.85zM606.09 543.0h1.85v1.6h-1.85zM607.78 486.9h1.85v1.6h-1.85zM609.47 482.5h1.85v1.6h-1.85zM611.16 469.2h1.85v1.6h-1.85zM611.16 495.8h1.85v1.6h-1.85zM611.16 547.5h1.85v1.6h-1.85zM612.85 460.4h1.85v1.6h-1.85zM612.85 520.9h1.85v1.6h-1.85zM612.85 550.4h1.85v1.6h-1.85zM614.54 475.1h1.85v1.6h-1.85zM614.54 506.1h1.85v1.6h-1.85zM614.54 535.7h1.85v1.6h-1.85zM616.23 464.8h1.85v1.6h-1.85zM616.23 500.2h1.85v1.6h-1.85zM617.92 482.5h1.85v1.6h-1.85zM619.61 470.7h1.85v1.6h-1.85zM619.61 510.6h1.85v1.6h-1.85zM619.61 550.4h1.85v1.6h-1.85zM621.30 531.2h1.85v1.6h-1.85zM623.00 476.6h1.85v1.6h-1.85zM623.00 523.8h1.85v1.6h-1.85zM624.69 500.2h1.85v1.6h-1.85zM624.69 546.0h1.85v1.6h-1.85zM626.38 484.0h1.85v1.6h-1.85zM626.38 537.1h1.85v1.6h-1.85zM628.07 457.4h1.85v1.6h-1.85zM628.07 510.6h1.85v1.6h-1.85zM629.76 491.4h1.85v3.1h-1.85zM631.45 460.4h1.85v3.1h-1.85zM631.45 522.4h1.85v3.1h-1.85zM633.14 501.7h1.85v1.6h-1.85zM634.83 466.3h1.85v1.6h-1.85zM634.83 537.1h1.85v3.1h-1.85zM636.52 512.0h1.85v3.1h-1.85zM638.21 470.7h1.85v3.1h-1.85zM639.90 525.3h1.85v3.1h-1.85zM641.59 476.6h1.85v3.1h-1.85zM643.28 540.1h1.85v3.1h-1.85zM644.97 484.0h1.85v4.6h-1.85zM648.35 492.8h1.85v4.6h-1.85zM651.74 501.7h1.85v4.6h-1.85zM655.12 513.5h1.85v4.6h-1.85zM658.50 525.3h1.85v7.5h-1.85zM661.88 540.1h1.85v7.5h-1.85zM710.91 457.4h1.85v4.6h-1.85zM714.29 457.4h1.85v10.5h-1.85zM717.67 457.4h1.85v14.9h-1.85zM721.05 457.4h1.85v22.3h-1.85zM724.43 457.4h1.85v29.7h-1.85zM727.81 457.4h1.85v38.5h-1.85zM731.19 457.4h1.85v47.4h-1.85zM734.58 457.4h1.85v59.2h-1.85zM737.96 457.4h1.85v72.5h-1.85zM741.34 457.4h1.85v87.3h-1.85zM744.72 457.4h1.85v94.7h-1.85zM748.10 457.4h1.85v94.7h-1.85zM751.48 457.4h1.85v94.7h-1.85zM754.86 457.4h1.85v94.7h-1.85zM758.25 457.4h1.85v94.7h-1.85zM761.63 457.4h1.85v94.7h-1.85zM765.01 457.4h1.85v94.7h-1.85zM768.39 457.4h1.85v94.7h-1.85zM771.77 457.4h1.85v94.7h-1.85zM775.15 457.4h1.85v94.7h-1.85zM778.53 457.4h1.85v94.7h-1.85zM781.91 457.4h1.85v94.7h-1.85zM785.29 457.4h1.85v94.7h-1.85zM788.68 457.4h1.85v94.7h-1.85zM792.06 457.4h1.85v94.7h-1.85zM795.44 457.4h1.85v94.7h-1.85z"/>
<rect x="581" y="455.9" width="219.4" height="97.5" fill="none" stroke="#404040" stroke-width="3"/>
<text x="560" y="586.1" font-family="Liberation Serif" font-size="29" textLength="261" lengthAdjust="spacingAndGlyphs">Sinusoidal embedding</text>
<path d="M826.0 505.3H861.3" stroke="#404040" stroke-width="3.3" fill="none"/><path d="M860.3 496.6L885.4 505.3L860.3 514.0z" fill="#404040"/>
<path d="M966.3 443.4V415.0" stroke="#404040" stroke-width="3.3" fill="none"/><path d="M957.6 414.0L966.3 391.2L975.0 414.0z" fill="#404040"/>
<rect x="907.7" y="452.6" width="113.9" height="109.6" rx="20" fill="#D9E9D5" stroke="#404040" stroke-width="3.5" filter="url(#sh)"/>
<g fill="none" stroke="#000" stroke-linecap="round"><path d="M974.3 480.6L960 534.2" stroke-width="2"/><path d="M946.8 504.4C948.5 499.8 951.2 496.8 954 496.8C956.8 496.8 957.4 499.6 956.4 503" stroke-width="2.2"/><path d="M956.6 502.5C955 507.5 952.8 511.5 952.8 515C952.8 519.5 956.5 521.2 962 521.2" stroke-width="4.8"/><path d="M961 521.2C971 521.2 979.5 514 982.3 505C983.2 502 983.2 499 981.5 497.8" stroke-width="3.4"/><circle cx="980.4" cy="500.2" r="3.7" fill="#000" stroke="none"/></g>
<text x="173" y="530" font-family="Liberation Serif" font-size="32.6" text-anchor="middle">Trained weights</text>
<text x="173" y="583.4" font-family="Liberation Serif" font-size="32.8" text-anchor="middle">Frozen VLM</text></svg>
</body></html>
